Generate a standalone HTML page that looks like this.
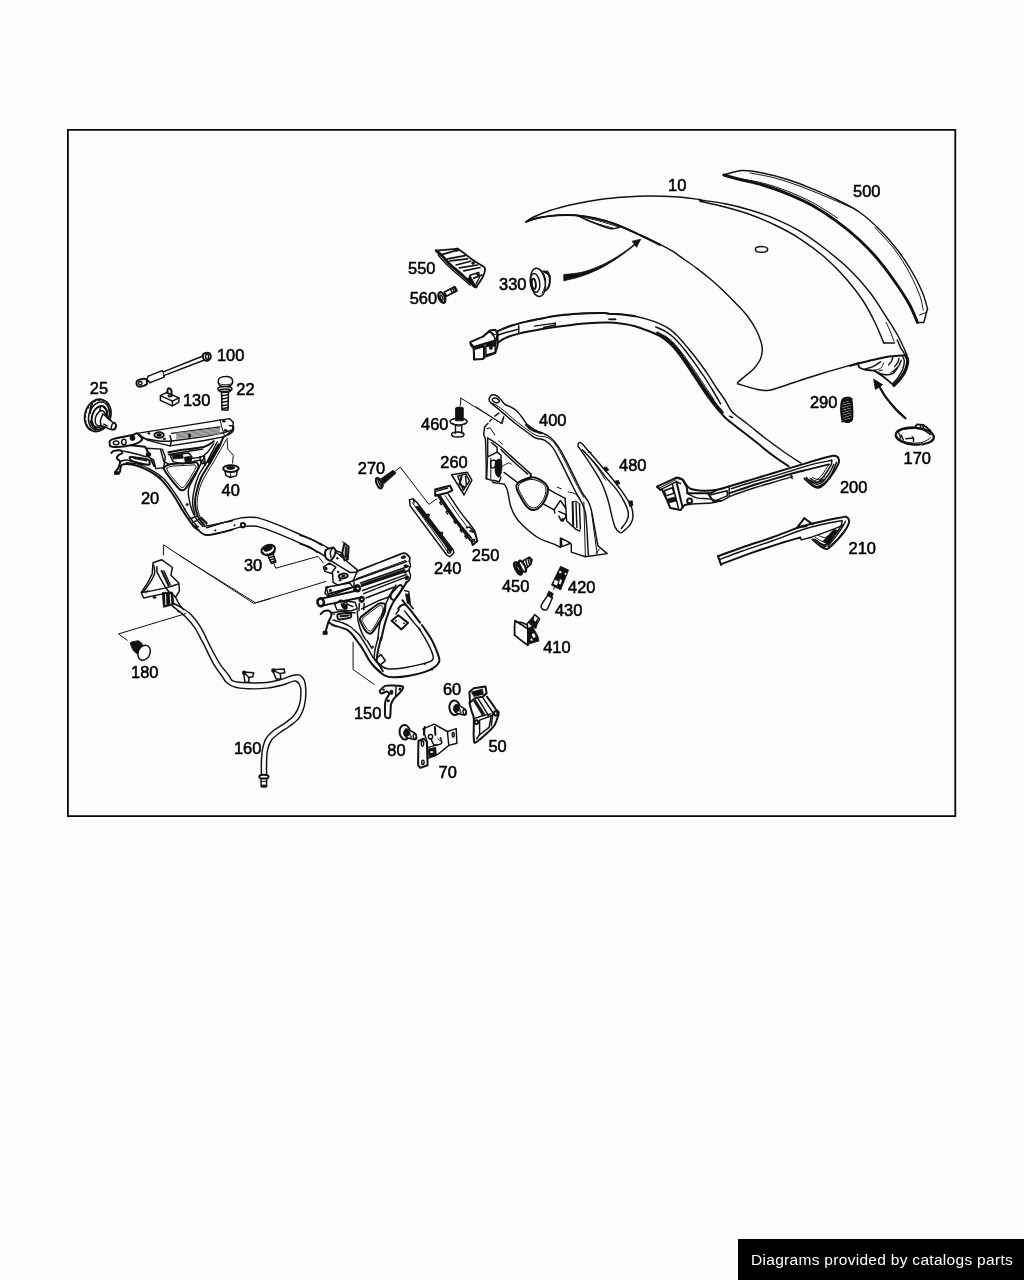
<!DOCTYPE html>
<html lang="en">
<head>
<meta charset="utf-8">
<title>Parts diagram</title>
<style>
html,body{margin:0;padding:0;background:#fcfcfc;}
body{width:1024px;height:1280px;position:relative;overflow:hidden;font-family:"Liberation Sans",sans-serif;}
#dg{position:absolute;left:0;top:0;width:1024px;height:1280px;display:block;filter:grayscale(1);}
#dg path,#dg line,#dg polyline,#dg polygon,#dg ellipse,#dg circle,#dg rect{vector-effect:non-scaling-stroke;}
#dg .ln{fill:none;stroke:#111;stroke-width:1.45;stroke-linecap:round;stroke-linejoin:round;}
#dg .th{fill:none;stroke:#111;stroke-width:1;stroke-linecap:round;stroke-linejoin:round;}
#dg .hv{fill:none;stroke:#111;stroke-width:2;stroke-linecap:round;stroke-linejoin:round;}
#dg .wf{fill:#fcfcfc;stroke:#111;stroke-width:1.5;stroke-linecap:round;stroke-linejoin:round;}
#dg .bk{fill:#111;stroke:#111;stroke-width:0.8;stroke-linejoin:round;}
#dg .gy{fill:#888;stroke:none;}
#dg text{font-family:"Liberation Sans",sans-serif;fill:#000;stroke:#000;stroke-width:0.55;}
#credit{filter:grayscale(1);position:absolute;left:738px;top:1239px;width:286px;height:41px;background:#000;color:#fff;
 font-family:"Liberation Sans","DejaVu Sans",sans-serif;font-size:15.5px;letter-spacing:0.3px;line-height:41px;text-align:left;white-space:nowrap;}
#credit span{position:absolute;left:13px;top:0;}
</style>
</head>
<body>
<svg id="dg" width="1024" height="1280" viewBox="0 0 1024 1280">
<!-- 00_frame.svgfrag -->
<rect x="67.9" y="129.9" width="887.4" height="686.2" fill="none" stroke="#0a0a0a" stroke-width="1.8"/>
<!-- 10_lid.svgfrag -->
<g id="lid">
<path class="ln" d="M526.2,221.8C527.3,221 528.5,219.4 532.5,217.5C536.5,215.6 542.9,212.8 550,210.5C557.1,208.2 566.7,205.8 575,204C583.3,202.2 591.7,200.7 600,199.5C608.3,198.3 616.7,197.6 625,197C633.3,196.4 641.7,196 650,196C658.3,196 666.7,196.2 675,196.8C683.3,197.3 695.8,199 700,199.5C704.2,200 695.8,199.3 700,200C704.2,200.7 716.7,202.1 725,203.8C733.3,205.4 741.7,207.5 750,210C758.3,212.5 766.7,215.2 775,218.8C783.3,222.3 791.7,226.2 800,231.2C808.3,236.2 816.7,242.3 825,248.8C833.3,255.2 842.5,262.7 850,270C857.5,277.3 864.2,285 870,292.5C875.8,300 880.4,307.9 885,315C889.6,322.1 893.8,328.3 897.5,335C901.2,341.7 905.4,351.7 907,355"/>
<path class="ln" d="M526.2,221.8C528.1,221.1 532.3,219.1 537.5,218C542.7,216.9 551.2,215.7 557.5,215.2C563.8,214.8 568.8,214.8 575,215.2C581.2,215.8 588.3,216.8 595,218.2C601.7,219.7 607.5,221.2 615,224C622.5,226.8 632.5,231.6 640,235C647.5,238.4 654.6,241.7 660,244.4C665.4,247.1 668.3,248.7 672.5,251.2C676.7,253.8 680.8,257.1 685,260C689.2,262.9 693.3,265.6 697.5,268.8C701.7,271.9 705.8,275.2 710,278.8C714.2,282.3 718.3,286 722.5,290C726.7,294 730.8,298.1 735,302.5C739.2,306.9 744,311.7 747.5,316.2C751,320.8 754,325.6 756.2,330C758.5,334.4 760.2,339 761.2,342.5C762.2,346 762.5,348.3 762.2,351.2C762,354.2 761.4,357.1 760,360C758.6,362.9 756.2,366 753.8,368.8C751.2,371.5 747.7,374 745,376.2C742.3,378.5 738.8,381.5 737.5,382.5"/>
<ellipse class="ln" cx="761.5" cy="249.4" rx="6.2" ry="2.8"/>
<path class="hv" d="M526.2,221.8C528.1,221.1 532.3,219.1 537.5,218C542.7,216.9 551.2,215.7 557.5,215.2C563.8,214.8 568.8,214.8 575,215.2C581.2,215.8 588.3,216.8 595,218.2C601.7,219.7 607.5,221.2 615,224C622.5,226.8 632.5,231.5 640,235C647.5,238.5 656.7,243.3 660,245"/>
<path class="ln" d="M577.5,215.5C579.6,216.5 584.6,219.1 590,221.2C595.4,223.4 605.1,227.5 610,228.5C614.9,229.5 617.9,227.5 619.5,227.2"/>
<path class="th" d="M581.2,216.5C584.4,217.3 593.6,219.5 600,221.2C606.4,223 616.2,226.2 619.5,227.2"/>
<path class="th" d="M586.2,220C588.5,220.8 595.6,223.2 600,224.5C604.4,225.8 610.4,227.4 612.5,228"/>
<path class="ln" d="M737.5,383.8C740.8,384.7 752.5,388.4 757.5,389.5C762.5,390.6 764.6,390.6 767.5,390.5C770.4,390.4 769.6,390.4 775,388.8C780.4,387.1 791.7,383.2 800,380.5C808.3,377.8 815,375.5 825,372.5C835,369.5 854.2,364.2 860,362.5"/>
<path class="ln" d="M700,201.2C704.2,202.2 716.7,204.8 725,207C733.3,209.2 741.7,211.5 750,214.5C758.3,217.5 766.7,221 775,225C783.3,229 791.7,233.3 800,238.8C808.3,244.2 817.5,251 825,257.5C832.5,264 838.8,270.4 845,277.5C851.2,284.6 857.5,292.5 862.5,300C867.5,307.5 871.5,315.3 875,322.5C878.5,329.7 882.3,339.6 883.8,343"/>
<path class="ln" d="M883.8,343L894.5,343"/>
<path class="th" d="M886.2,322.5C887.1,324.4 890,330.6 891.2,333.8C892.5,336.9 893.3,340 893.8,341.2"/>
<path class="ln" d="M723.8,175C726.9,174.2 736,170.8 742.5,170.5C749,170.2 755,171.5 762.5,173C770,174.5 779.2,176.9 787.5,179.5C795.8,182.1 804.2,185.3 812.5,188.8C820.8,192.2 829.6,196 837.5,200C845.4,204 852.9,207.5 860,212.5C867.1,217.5 873.8,223.8 880,230C886.2,236.2 892.1,242.9 897.5,250C902.9,257.1 908.3,265.4 912.5,272.5C916.7,279.6 920,286.5 922.5,292.5C925,298.5 926.7,306 927.5,308.8"/>
<path class="hv" d="M723.8,175C726.5,175.8 733.5,177.8 740,179.5C746.5,181.2 754.6,182.6 762.5,185C770.4,187.4 779.2,190.3 787.5,193.8C795.8,197.2 804.2,200.8 812.5,205.5C820.8,210.2 829.6,215.9 837.5,221.8C845.4,227.6 852.9,233.8 860,240.5C867.1,247.2 873.8,254.2 880,261.8C886.2,269.2 892.5,278.2 897.5,285.5C902.5,292.8 906.7,299.3 910,305.5C913.3,311.7 916.2,319.7 917.5,322.5" style="stroke-width:2.9"/>
<path class="ln" d="M917.5,322.5L923.8,322.5L927.5,308.8"/>
<path class="th" d="M750,173C754.2,173.8 766.7,175.8 775,178C783.3,180.2 791.7,183.2 800,186.2C808.3,189.3 816.2,192.6 825,196.2C833.8,199.9 847.9,206 852.5,208"/>
<path class="th" d="M730,177C735.4,178 752.9,180.6 762.5,183C772.1,185.4 779.2,188 787.5,191.2C795.8,194.5 804.2,198 812.5,202.5C820.8,207 833.3,215.4 837.5,218"/>
<path class="th" d="M875,227.5C878.3,231.2 889.2,242.3 895,250C900.8,257.7 905.8,266 910,273.8C914.2,281.5 917.8,290.2 920,296.2C922.2,302.3 922.7,307.7 923.2,310"/>
<path class="th" d="M919.5,315L926.2,312.5"/>

<path class="wf" d="M842.5,400C843.3,398 844.9,398.1 846.2,398C847.6,397.9 849.8,397.5 850.8,399.5C851.8,401.5 852.1,406.7 852.2,410C852.4,413.3 852.5,417.5 851.8,419.5C851,421.5 849.2,421.7 847.8,421.8C846.3,421.8 844.1,422 843,420C841.9,418 841.3,413.3 841.2,410C841.2,406.7 841.7,402 842.5,400Z" style="stroke-width:2.2"/>
<path class="hv" d="M842,401.5L851.8,399" style="stroke-width:1.9"/>
<path class="hv" d="M842,404L851.8,401.5" style="stroke-width:1.9"/>
<path class="hv" d="M842,406.5L851.8,404" style="stroke-width:1.9"/>
<path class="hv" d="M842,409L851.8,406.5" style="stroke-width:1.9"/>
<path class="hv" d="M842,411.5L851.8,409" style="stroke-width:1.9"/>
<path class="hv" d="M842,414L851.8,411.5" style="stroke-width:1.9"/>
<path class="hv" d="M842,416.5L851.8,414" style="stroke-width:1.9"/>
<path class="hv" d="M842,419L851.8,416.5" style="stroke-width:1.9"/>
<path class="hv" d="M842,421.5L851.8,419" style="stroke-width:1.9"/>
<ellipse class="bk" cx="846.8" cy="399.2" rx="4.5" ry="1.8" transform="rotate(-10 846.8 399.2)"/>
<path class="hv" d="M850,365.9C852.5,365.2 860.2,363.1 865.2,361.8C870.3,360.6 876.2,359.2 880.5,358.3C884.7,357.4 886.5,356.8 890.6,356.3C894.8,355.7 902.9,355.4 905.4,355.2"/>
<path class="hv" d="M905.4,355.2C905.8,356.1 907.6,358.1 907.7,360.3C907.8,362.6 907.2,365.7 906.1,368.6C905,371.6 903,375 901,377.8C899,380.6 895.1,384.1 893.9,385.4" style="stroke-width:3.2"/>
<path class="ln" d="M902.8,356.8C903.1,357.5 904.3,359.3 904.3,361.3C904.3,363.4 903.8,366.3 902.8,369C901.8,371.6 899.9,374.7 898.3,377.1C896.6,379.4 894,382.2 893.2,383.2"/>
<path class="ln" d="M893.9,385.4L883.5,376.8L874.4,370.7" style="stroke-width:1.8"/>
<path class="ln" d="M858.1,364.9C858.5,365.4 858.6,367.1 860.2,367.9C861.7,368.8 864.9,369.5 867.3,370C869.6,370.4 873.2,370.6 874.4,370.7" style="stroke-width:1.8"/>
<path class="ln" d="M874.4,370.7C875.9,371.3 880.5,374.1 883.5,374.5C886.6,375 890.3,374.7 892.7,373.5C895,372.4 896.9,368.6 897.7,367.6"/>
<path class="ln" d="M865.2,369C866.6,368.5 870.8,367.6 873.4,366.4C875.9,365.2 879.3,362.6 880.5,361.8"/>
<path class="th" d="M873.4,370.5C874.6,370.1 878.8,369.7 880.5,368.4C882.2,367.2 883,363.8 883.5,362.9"/>
<path class="ln" d="M888.6,364.9C889.1,364.2 891,362.1 891.7,360.8C892.3,359.6 892.5,357.9 892.7,357.3"/>
<path class="ln" d="M894.7,366.6C895.2,365.9 897,363.9 897.7,362.6C898.5,361.2 898.8,359.2 899,358.5"/>
<path class="ln" d="M893.7,371C894.5,370.1 897.5,367.7 898.8,365.9C900,364.1 900.9,361.2 901.3,360.3"/>
<path class="th" d="M890.6,372.5L894.7,370.5"/>
<path class="th" d="M879,371L882.5,370"/>
<path class="ln" d="M897.2,340L900.8,348.1L905.4,355.2"/>
<path class="hv" d="M905.4,418.2C903.8,416.7 899,412.6 895.7,409.1C892.4,405.5 888.3,400.6 885.6,396.9C882.8,393.2 880.8,389 879.5,386.7C878.1,384.4 877.6,383.8 877.2,383.2" style="stroke-width:2.3"/>
<path class="bk" d="M873.6,379.1L875.4,389.5L882.7,384.7Z"/>
<ellipse class="ln" cx="914.8" cy="436.1" rx="19.1" ry="8.5" transform="rotate(4 914.8 436.1)" style="stroke-width:2.3"/>
<path class="ln" d="M897.7,431.9C898.6,431.5 899.9,430 902.8,429.4C905.7,428.8 911.6,428.1 915,428.2C918.4,428.3 920.6,428.9 923.1,429.9C925.7,431 929.1,433.7 930.3,434.5"/>
<path class="th" d="M897.2,436.5C898.2,437.3 900.2,440 902.8,441.1C905.4,442.2 909.6,442.9 913,443.1C916.4,443.3 920.3,442.9 923.1,442.1C926,441.2 929.1,438.7 930.3,438"/>
<path class="ln" d="M915,427.2L917,424.3L923.1,424.8L930.3,430.4L931.8,434" style="stroke-width:1.8"/>
<path class="ln" d="M920.1,424.8L921.1,428.4"/>
<path class="ln" d="M922.6,425.3L924,429.4"/>
<path class="ln" d="M905.9,438.7L913.5,438L913.5,441.6"/>
<path class="th" d="M912,436L913.5,438"/>
<path class="ln" d="M898.8,433L900.8,438"/>
<path class="ln" d="M901.3,435L903.3,440.1"/>
</g>
<!-- 20_frame.svgfrag -->
<g id="frame">
<path class="ln" d="M497.6,331.2C499.8,330.3 506.1,327.4 510.9,325.8C515.7,324.2 521.3,322.8 526.5,321.6C531.7,320.3 536.9,319.4 542.1,318.4C547.3,317.4 552.5,316.4 557.8,315.6C563,314.9 568.2,314.5 573.4,314.1C578.6,313.7 583.8,313.4 589,313.3C594.2,313.1 601.1,313 604.6,313.1C608.1,313.2 607,313.5 610,313.8C613,314 618.3,314 622.5,314.4C626.7,314.8 630.8,315.4 635,316.2C639.2,317.1 643.3,318.1 647.5,319.4C651.7,320.6 656.2,322.1 660,323.8C663.8,325.4 666.9,327.1 670,329.4C673.1,331.7 675.8,334.5 678.8,337.5C681.7,340.5 684.4,343.8 687.5,347.5C690.6,351.2 694.2,355.6 697.5,360C700.8,364.4 704.4,369.2 707.5,373.8C710.6,378.3 713.3,383.1 716.2,387.5C719.2,391.9 722.3,395.9 725,400C727.7,404.1 728.5,407.9 732.2,411.9C736,415.8 741.6,419.3 747.2,423.8C752.9,428.2 759.8,434 766,438.8C772.2,443.5 778.9,448.4 784.8,452.5C790.6,456.6 798.3,461.4 801,463.1"/>
<path class="hv" d="M497.6,331.2C499.8,330.3 506.1,327.4 510.9,325.8C515.7,324.2 521.3,322.8 526.5,321.6C531.7,320.3 536.9,319.4 542.1,318.4C547.3,317.4 552.5,316.4 557.8,315.6C563,314.9 568.2,314.5 573.4,314.1C578.6,313.7 583.8,313.4 589,313.3C594.2,313.1 601.1,313 604.6,313.1C608.1,313.2 607,313.5 610,313.8C613,314 618.3,314 622.5,314.4C626.7,314.8 632.9,315.9 635,316.2"/>
<path class="hv" d="M497.6,343C498.8,342.2 501.1,339.8 504.6,338.3C508.1,336.7 513.7,334.9 518.7,333.6C523.6,332.3 529.1,331.4 534.3,330.5C539.5,329.5 544.7,328.6 549.9,327.8C555.1,327 560.4,326.5 565.6,325.8C570.8,325.1 576,324.3 581.2,323.8C586.4,323.2 592,322.9 596.8,322.7C601.6,322.4 605.7,322.3 610,322.5C614.3,322.7 618.3,323.1 622.5,323.8C626.7,324.4 630.8,325.1 635,326.2C639.2,327.4 643.3,329 647.5,330.6C651.7,332.3 656.2,334.1 660,336.2C663.8,338.4 666.9,340.8 670,343.8C673.1,346.7 675.8,350 678.8,353.8C681.7,357.5 684.4,361.7 687.5,366.2C690.6,370.8 694.2,376.2 697.5,381.2C700.8,386.2 704.4,391.9 707.5,396.2C710.6,400.6 713.3,404 716.2,407.5C719.2,411 722.3,414.8 725,417.5C727.7,420.2 727.8,420 732.5,423.8C737.2,427.5 746.9,434.8 753.5,440C760.1,445.2 766.4,450.6 772.2,455C778.1,459.4 785.8,464.4 788.5,466.2"/>
<path class="hv" d="M657.5,332.8C659.4,334 665.3,337.1 668.8,340C672.2,342.9 675.1,346.2 678.1,350C681.1,353.8 683.8,357.9 686.9,362.5C690,367.1 693.5,372.5 696.9,377.5C700.2,382.5 703.8,388.1 706.9,392.5C710,396.9 713,400.7 715.6,404C718.2,407.3 721.4,411.1 722.5,412.5" style="stroke-width:2.6"/>
<path class="ln" d="M655.6,326.9C657.4,327.7 663,329.9 666.2,331.9C669.5,333.9 672.1,335.9 675,338.8C677.9,341.6 680.6,344.9 683.8,348.8C686.9,352.6 690.4,357.3 693.8,361.9C697.1,366.5 700.6,371.6 703.8,376.2C706.9,380.9 709.7,385.4 712.5,390C715.3,394.6 719.3,401.5 720.6,403.8"/>
<path class="th" d="M665,335.6C666.7,337.1 671.7,340.8 675,344.4C678.3,347.9 681.7,352.4 685,356.9C688.3,361.4 691.7,366.4 695,371.2C698.3,376.1 701.9,381.6 705,386.2C708.1,390.9 712.3,397.2 713.8,399.4"/>

<path class="ln" d="M497.6,335.2C499.3,334.6 504.2,333 507.8,332C511.3,331 516.9,329.6 518.7,329.1"/>
<path class="ln" d="M518.7,325.8L518.7,333.6"/>
<path class="ln" d="M534.3,326.1L555.4,323.1L555.4,325L543.7,327.5"/>
<path class="ln" d="M608.5,319.1L615.6,319.1"/>
<path class="hv" d="M470.2,342.2L482.8,336.7L489.8,330.5L495.2,329.7L497.6,333.6L497.6,345.3L495.2,353.1L484.3,357L482.8,359.1L474.2,359.4L473.7,348.4L471,345.3Z"/>
<path class="hv" d="M471,343.8L473.7,346.9L496,340.3L497.6,334.4"/>
<path class="ln" d="M473.7,346.9L473.7,359.4"/>
<path class="hv" d="M484,346.9L484,358.1"/>
<path class="ln" d="M485.9,346.6L485.9,355L495.2,352.5L495.2,343"/>
<path class="bk" d="M474.9,346.9L484.3,344.5L484.3,346.9L474.9,349.4Z"/>
<path class="bk" d="M485.9,343.8L496,340.9L496,345.3L492.1,346.9L492.1,349.2L489.8,349.2L489,346.1L485.9,346.9Z"/>
<path class="ln" d="M482.8,336.7L489.8,331.2L492.9,333.6L495.2,339.8"/>
<path class="th" d="M489.8,330.5L492.1,335.2L497.6,333.6"/>

<path class="hv" d="M677.4,477.6C678.3,477.9 681.1,478.6 682.5,479.6C683.9,480.6 684.2,482.1 685.5,483.7C686.9,485.2 687.7,487.6 690.6,488.8C693.5,489.9 698.4,490.6 702.8,490.8C707.2,491 712.3,490.6 717,489.8C721.8,488.9 725.5,487.4 731.2,485.7C737,484 744.8,481.6 751.6,479.6C758.3,477.6 765.1,475.5 771.9,473.5C778.6,471.5 785.4,469.5 792.2,467.4C799,465.4 805.7,463.3 812.5,461.3C819.3,459.4 828.6,456.5 832.8,455.8C837,455.2 837,457 837.9,457.3"/>
<path class="ln" d="M731.2,488.8C734.6,487.7 744.8,484.3 751.6,482.2C758.3,480.2 765.1,478.5 771.9,476.6C778.6,474.6 785.4,472.5 792.2,470.5C799,468.4 805.9,466.1 812.5,464.4C819.1,462.7 828.6,461 831.8,460.3"/>
<path class="hv" d="M729.2,493.2C732.9,492 744.5,488 751.6,485.7C758.7,483.4 765.1,481.6 771.9,479.6C778.6,477.6 785.4,475.4 792.2,473.5C799,471.7 806.4,470 812.5,468.4C818.6,466.9 826,465.1 828.8,464.4"/>
<path class="ln" d="M690.6,504C694,503.8 705.9,503.5 710.9,503C716,502.5 717.7,502.1 721.1,500.9C724.5,499.8 726.2,497.9 731.2,495.9C736.3,493.8 744.8,491 751.6,488.8C758.3,486.5 765.1,484.7 771.9,482.7C778.6,480.6 788.8,477.6 792.2,476.6"/>
<path class="ln" d="M791.2,475.5L792.2,478.6"/>
<path class="ln" d="M729.2,485.7L729.2,495.9"/>
<path class="hv" d="M837.9,457.3C838.1,458.1 839.8,459.6 838.9,462.3C838.1,465.1 835.2,470 832.8,473.5C830.4,477.1 827.1,481.3 824.7,483.7C822.3,486 820.6,487.4 818.6,487.7C816.6,488.1 814.9,487.2 812.5,485.7C810.1,484.2 805.7,479.8 804.4,478.6"/>
<path class="ln" d="M831.8,460.3C831.6,461.2 832.3,462.5 830.8,465.4C829.3,468.3 825,474.7 822.7,477.6C820.3,480.5 818.6,482.1 816.6,482.7C814.5,483.2 811.5,481 810.5,480.6"/>
<path class="th" d="M828.8,464.4C827.6,466.2 823.8,472.8 821.6,475.5C819.4,478.3 816.6,479.8 815.5,480.6"/>
<path class="th" d="M834.8,470.5C833.5,472.2 829.3,478.1 826.7,480.6C824.2,483.2 820.8,484.9 819.6,485.7"/>
<path class="th" d="M812.5,477.6C813.5,477.9 816.6,479.8 818.6,479.6C820.6,479.4 823.7,477.1 824.7,476.6"/>
<path class="ln" d="M808.4,479.6C809.8,480.4 814.2,483.9 816.6,484.3C818.9,484.6 820.5,483.6 822.7,481.6C824.9,479.7 827.9,475.4 829.8,472.5C831.6,469.6 833.2,465.7 833.8,464.4"/>
<path class="ln" d="M806.4,477.6C807.9,479 812.7,485.3 815.5,486.3C818.4,487.3 821,485.8 823.7,483.7C826.4,481.5 829.7,477.1 831.8,473.5C833.9,470 835.7,464.2 836.5,462.3"/>
<path class="ln" d="M810.5,478.6C811.7,479.2 815.5,482.1 817.6,482.2C819.7,482.4 822.1,480 823.1,479.6"/>
<path class="hv" d="M657.1,486.7L676.4,477.6L682.5,479.6L686.6,486.7L687.6,493.2L710.9,493.2L717,489.8"/>
<path class="hv" d="M657.1,486.7L660.2,489.8L662.2,489.8L667.3,500.9L670.3,508L680.5,510.1L684.5,505L690.6,504"/>
<path class="ln" d="M660.2,489.8L676.4,481.6L680.5,483.7"/>
<path class="th" d="M659.1,488.3L676,479.6"/>
<path class="hv" d="M676.4,481.6L682.5,507"/>
<path class="ln" d="M672.3,483.7L678.4,508"/>
<path class="bk" d="M667.3,498.9L675.4,496.9L676.4,500.9L668.7,503Z"/>
<path class="ln" d="M664.2,490.8L672.3,487.7L674,493.2L666.2,495.9Z"/>
<ellipse class="hv" cx="689.6" cy="500.9" rx="2.4" ry="2.4"/>
<path class="ln" d="M686.6,493.2C688.3,494 693,496.9 696.7,497.9C700.4,498.8 705.5,498.4 708.9,498.9C712.3,499.4 715.7,500.6 717,500.9"/>
<path class="hv" d="M707.9,493.2L713,500.9L721.1,500.9"/>
<path class="ln" d="M710.9,494.8L727.2,490.8L727.2,495.9L715,500.9"/>
<path class="hv" d="M718,556.2C721.9,554.8 732.4,550.8 741.4,547.7C750.4,544.5 761.7,541.1 771.9,537.5C782,533.9 793.9,529 802.3,526.3C810.8,523.6 816.2,522.7 822.7,521.2C829.1,519.8 837,518.3 840.9,517.6C844.8,516.8 844.7,516.3 846,516.8C847.4,517.2 848.7,518.8 849.1,520.2C849.4,521.7 849.1,523.1 848,525.3C847,527.5 845.2,530.6 843,533.4C840.8,536.3 837.4,540 834.8,542.6C832.3,545.1 829.8,547.8 827.7,548.7C825.7,549.5 825.2,549.2 822.7,547.7C820.1,546.1 814.2,540.9 812.5,539.5"/>
<path class="ln" d="M720.1,559.4C723.6,558.1 732.8,554.4 741.4,551.3C750,548.2 761.7,544.5 771.9,541C782,537.4 793.9,532.6 802.3,529.8C810.8,527 816.1,525.8 822.7,524.3C829.3,522.8 838.7,521.2 842,520.6"/>
<path class="hv" d="M718,556.2L721.1,564.9"/>
<path class="hv" d="M721.1,564.3C726.2,562.4 741.4,556.5 751.6,552.9C761.7,549.3 773.9,545.4 782,542.8C790.2,540.2 797.3,538.4 800.3,537.5"/>
<path class="ln" d="M800.3,537.5L801.3,539.9L810.5,537.5"/>
<path class="ln" d="M810.5,537.5C812.8,536.7 819.3,534.5 824.7,532.4C830.1,530.4 839.9,526.5 843,525.3"/>
<path class="hv" d="M804.4,518.2L797.3,527.3L806.4,526.3"/>
<path class="hv" d="M804.4,518.2L812.5,524.3"/>
<path class="ln" d="M842,520.6C841.8,521.6 842.5,523.5 840.9,526.3C839.4,529.1 835.4,534.5 832.8,537.5C830.3,540.5 827.7,543.6 825.7,544.6C823.7,545.6 821.5,543.8 820.6,543.6"/>
<path class="th" d="M838.9,529.4C837.6,531.1 833.2,537.3 830.8,539.5C828.4,541.7 825.7,542.1 824.7,542.6"/>
<path class="th" d="M845,529.4C843.5,531.2 838.6,537.7 835.9,540.5C833.1,543.4 829.6,545.6 828.3,546.6"/>
<path class="th" d="M818.6,535.5C819.6,535.8 822.7,537.7 824.7,537.5C826.7,537.3 829.8,535 830.8,534.5"/>
<path class="th" d="M815.5,537.5C816.7,538.2 820.5,541.2 822.7,541.6C824.9,541.9 827.7,539.9 828.8,539.5"/>
<path class="bk" d="M822.7,541.6L833.8,529.4L837.9,530.4L828.8,544.6Z"/>
<path class="ln" d="M816.6,540.5C817.9,541.6 822.3,546.3 824.7,546.6C827.1,547 828.1,545.5 830.8,542.6C833.5,539.7 838.5,532.9 840.9,529.4C843.4,525.8 844.7,522.6 845.4,521.2"/>
<path class="ln" d="M814.5,539.1C816.1,540.1 821.1,544.9 823.7,545.2C826.2,545.6 828.8,541.8 829.8,541.2"/>
<path class="ln" d="M610,319.4L615.6,319.4"/>
<path class="ln" d="M729.4,416.2L732.5,417.5"/>
</g>
<!-- 30_p400.svgfrag -->
<g id="p400">
<path class="ln" d="M489.3,398.2C489.7,397.6 490.5,395.5 491.6,395C492.8,394.6 494.8,394.7 496.3,395.5C497.9,396.3 499.6,398.2 501,399.7C502.4,401.2 503.3,403.2 504.9,404.4C506.5,405.6 508.4,405.7 510.4,406.8C512.3,407.8 514.5,408.7 516.6,410.7C518.7,412.6 521.1,416.1 522.9,418.5C524.7,420.8 525.2,422.6 527.6,424.7C529.9,426.8 534.3,429.5 536.9,431C539.5,432.4 540.8,432.1 543.2,433.3C545.5,434.5 548.4,435.7 551,438C553.6,440.3 556.2,443.5 558.8,447.4C561.4,451.3 564,456.5 566.6,461.4C569.2,466.4 571.8,471.9 574.4,477.1C577,482.3 579.9,488.5 582.2,492.7C584.6,496.9 586.9,498.9 588.5,502.1C590.1,505.2 590.6,507 591.6,511.4C592.7,515.9 593.7,522.9 594.8,528.6C595.8,534.4 597.4,542.9 597.9,545.8"/>
<path class="ln" d="M489.3,398.2C489.4,398.8 488.4,400.1 490.1,402.1C491.8,404 495.3,406.4 499.4,409.9C503.6,413.4 510.4,419.4 515.1,423.2C519.8,426.9 524.2,430.1 527.6,432.5C530.9,435 532.5,436.7 535.4,438C538.2,439.3 541.9,438.8 544.8,440.3C547.6,441.9 550,443.9 552.6,447.4C555.2,450.9 557.8,456.5 560.4,461.4C563,466.4 565.6,471.9 568.2,477.1C570.8,482.3 573.7,488.3 576,492.7C578.3,497.1 580.7,500.2 582.2,503.6C583.8,507 584.6,508.8 585.4,513C586.2,517.2 586.5,523.4 586.9,528.6C587.3,533.8 587.5,539.7 587.7,544.2C588,548.8 588.4,554 588.5,556"/>
<path class="ln" d="M492.4,398.9C492.9,398.4 495.1,397.8 496.3,398.2C497.5,398.5 499.4,400.5 499.4,401.3C499.4,402.1 497.4,402.8 496.3,402.8C495.3,402.8 493.8,401.9 493.2,401.3C492.5,400.6 491.9,399.5 492.4,398.9Z"/>
<path class="th" d="M493.2,403.6C494.5,404.4 497.1,405.3 501,408.3C504.9,411.3 511.9,417.8 516.6,421.6C521.3,425.4 525.7,428.6 529.1,431C532.5,433.3 534.1,434.6 536.9,435.7C539.8,436.7 543.4,436 546.3,437.2C549.2,438.4 551.5,439.7 554.1,442.7C556.7,445.7 559.3,450.5 561.9,455.2C564.5,459.9 567.1,465.6 569.8,470.8C572.4,476 575.2,482 577.6,486.4C579.9,490.9 582.8,495.6 583.8,497.4"/>
<path class="hv" d="M527.6,425.5C528.3,426.3 529.9,428.9 532.2,430.2C534.6,431.5 540.1,432.8 541.6,433.3"/>
<path class="hv" d="M526,424.7L529.9,428.9"/>
<path class="ln" d="M484.6,427.1C484.5,428.4 483.7,432.8 483.8,434.9C483.9,437 485,434.9 485.4,439.6C485.8,444.2 486,456.5 486.2,463C486.3,469.5 486.2,476 486.2,478.6"/>
<path class="ln" d="M486.2,478.6L491.6,480.2L493.2,482.5L504.1,484.1"/>
<path class="ln" d="M504.1,484.1C504.6,485 506.2,486 507.2,489.6C508.3,493.1 509.1,500.8 510.4,505.2C511.7,509.6 513,512.7 515.1,516.1C517.1,519.5 519,521.9 522.9,525.5C526.8,529.1 533.3,534.9 538.5,538C543.7,541.1 550.5,542.7 554.1,544.2C557.8,545.8 559.3,546.9 560.4,547.4"/>
<path class="ln" d="M560.4,547.4L560.4,538L569.8,542.7L571.3,544.2L571.3,552.1L585.4,556.8L607.2,553.6L597.9,545.8"/>
<path class="ln" d="M561.2,538.8L561.9,546.6L569.8,543.5"/>
<path class="th" d="M596.3,553.6L599.4,548.9"/>
<path class="th" d="M583.8,502.1L585.4,556.4"/>
<path class="th" d="M591.6,513L597.1,553.6"/>
<path class="ln" d="M484.6,427.1L491.6,419.2" stroke-dasharray="5 3"/>
<path class="ln" d="M494.8,416.1L501,411.4" stroke-dasharray="5 3"/>
<path class="th" d="M486.9,428.6L490.1,427.8L494.8,434.9"/>
<path class="th" d="M498.7,441.1L502.6,444.2"/>
<path class="th" d="M476,406.8L501,423.2L503.8,416.1"/>
<path class="ln" d="M487.7,438C489.7,439.3 494.9,442.2 499.4,445.8C504,449.5 509.9,455.2 515.1,459.9C520.3,464.6 528.1,471.6 530.7,473.9"/>
<path class="ln" d="M501,449.7C503.3,451.9 510.6,459 515.1,463C519.5,467 525.5,472.1 527.6,473.9"/>
<path class="hv" d="M530.7,473.9L530.7,477.8L518.2,482.5"/>
<path class="ln" d="M504.1,472.4L516.6,481.8"/>
<path class="ln" d="M487.7,438L487.7,456.8L497.1,452.1L497.1,447.4L491.6,442.7"/>
<path class="th" d="M487.7,456.8L486.9,479.4"/>
<path class="th" d="M490.8,458.3L490.8,478.6"/>
<path class="ln" d="M497.1,452.1L501,455.2L501,463"/>
<path class="bk" d="M495.5,461.4C496.4,459.2 500,458.6 501,459.9C502,461.2 502,466.4 501.8,469.2C501.5,472.1 500.5,476.4 499.4,477.1C498.4,477.7 496.2,475.8 495.5,473.2C494.9,470.6 494.6,463.7 495.5,461.4Z"/>
<path class="ln" d="M490.8,461.4C491.5,460.3 494.8,459.9 495.5,460.7C496.3,461.4 496.2,465 495.5,466.1C494.9,467.3 492.4,468.5 491.6,467.7C490.8,466.9 490.2,462.6 490.8,461.4Z"/>
<path class="ln" d="M493.2,480.2L499.4,481.8L501,477.1"/>
<path class="th" d="M502.6,466.1C503.6,465.6 507.2,463.3 508.8,463C510.4,462.7 511.4,464.3 511.9,464.6"/>
<path class="hv" d="M516.6,484.9C518.2,481.4 526.3,477.9 530.7,477.4C535.1,476.9 540.3,479.8 543.2,481.8C546.1,483.7 547.6,485.7 547.9,488.8C548.1,491.9 546.6,497.1 544.8,500.5C542.9,503.9 539.5,507.7 536.9,509.1C534.3,510.4 531.7,510.4 529.1,508.6C526.5,506.8 523.4,502.1 521.3,498.2C519.2,494.2 515.1,488.3 516.6,484.9Z"/>
<path class="th" d="M518.5,485.7C519.8,482.7 526.7,479.8 530.7,479.4C534.7,479 539.9,481.6 542.4,483.3C545,485 545.9,486.8 546,489.6C546.1,492.3 544.8,496.8 543.2,499.7C541.6,502.6 538.8,505.9 536.6,507.1C534.4,508.2 532.2,508.4 529.9,506.8C527.6,505.1 524.8,500.9 522.9,497.4C521,493.9 517.2,488.7 518.5,485.7Z"/>
<path class="ln" d="M547.9,488.8C549.4,489.7 554.4,492.7 557.2,494.2C560.1,495.8 563.8,497.5 565.1,498.2"/>
<path class="ln" d="M565.1,498.2L565.8,508.3L560.4,500.5L554.1,509.9L543.2,503.9"/>
<path class="ln" d="M554.1,509.9L554.9,513"/>
<path class="th" d="M543.2,503.9L544.8,500.8"/>
<path class="th" d="M557.2,487.2L561.2,488.8"/>
<path class="th" d="M568.2,491.9C569.2,492.2 572.6,492.6 574.4,493.5C576.3,494.4 578.3,496.7 579.1,497.4"/>
<path class="ln" d="M558.8,511.4L565.8,514.6L565.8,517.7L561.2,520.8L558.8,516.1"/>
<ellipse class="bk" cx="562.7" cy="520" rx="1.2" ry="1.6"/>
<path class="ln" d="M565.8,508.3L566.6,520.8L576,529.4L579.9,531"/>
<path class="hv" d="M572.6,502.1L573.2,525.5"/>
<path class="ln" d="M576,502.8L576.9,527.4"/>
<path class="ln" d="M579.4,503.9L580.4,528.9"/>
<path class="th" d="M572.6,502.1C573.1,501.9 574.8,500.9 576,501.3C577.2,501.7 579.3,503.9 579.9,504.4"/>
<path class="ln" d="M578.3,446.6C577.7,445.2 578,444.1 578.3,443.5C578.7,442.8 579.5,442 580.7,442.7C581.9,443.3 583,444.8 585.4,447.4C587.7,450 591.6,454.7 594.8,458.3C597.9,462 601,465.6 604.1,469.2C607.2,472.9 610.4,476.3 613.5,480.2C616.6,484.1 620,488.5 622.9,492.7C625.7,496.9 629,501.3 630.7,505.2C632.4,509.1 633,513 633,516.1C633,519.2 632.4,521.3 630.7,523.9C629,526.5 624.7,530.3 622.9,531.8C621.1,533.2 621.1,533.3 619.8,532.5C618.4,531.8 616.4,529.8 615.1,527.1C613.8,524.3 613.2,521.1 611.9,516.1C610.6,511.2 609.1,503.1 607.2,497.4C605.4,491.6 603.6,487 601,481.8C598.4,476.5 594.8,471.1 591.6,466.1C588.5,461.2 584.5,455.3 582.2,452.1C580,448.8 579,448 578.3,446.6Z"/>
<path class="ln" d="M582.2,449.7C584.3,451.9 590.8,458.4 594.8,463C598.7,467.6 602,472.6 605.7,477.1C609.3,481.5 613.5,485.4 616.6,489.6C619.8,493.7 622.5,498.2 624.4,502.1C626.4,506 628,509.9 628.3,513C628.7,516.1 628,518.2 626.8,520.8C625.6,523.4 622.2,527.3 621.3,528.6"/>
<path class="th" d="M583.8,450.5C585.9,453.1 592.7,461.2 596.3,466.1C600,471.1 604.1,477.8 605.7,480.2"/>
<path class="bk" d="M603.3,467.7L606.5,466.9L608.8,470L605.7,471.6Z"/>
<path class="bk" d="M615.1,481L618.5,480.5L619.8,483.6L616.6,484.9Z"/>
<path class="bk" d="M628.3,501.3L632.2,500.8L633,505.2L629.9,506.8Z"/>
<path class="ln" d="M588.5,452.1L590.8,452.4"/>
</g>
<!-- 40_mid.svgfrag -->
<g id="mid">
<path class="th" d="M460.9,398.1L460.2,405.9"/>
<path class="th" d="M460.9,398.1L502.3,423.9L503.9,416.9"/>
<ellipse class="wf" cx="458.6" cy="421.6" rx="8.6" ry="3.4"/>
<path class="bk" d="M455.5,408.3L463.3,408.3L463.3,420.8L455.5,420.8Z"/>
<ellipse class="bk" cx="459.4" cy="408.3" rx="3.9" ry="1.2"/>
<path class="ln" d="M455.5,424.7L455.5,433.3"/>
<path class="ln" d="M461.7,424.7L461.7,433.3"/>
<ellipse class="ln" cx="457.8" cy="434.4" rx="6.2" ry="2.5"/>
<path class="th" d="M452.3,423.1C453.4,423.6 456.5,426.2 458.6,426.2C460.7,426.2 463.8,423.6 464.8,423.1"/>
<ellipse class="hv" cx="378.9" cy="483.3" rx="2.2" ry="5.6" transform="rotate(-25 378.9 483.3)"/>
<ellipse class="ln" cx="380.5" cy="482.5" rx="1.6" ry="4.7" transform="rotate(-25 380.5 482.5)"/>
<path class="bk" d="M381.2,478.6L393,470.3L396.1,473.1L383.6,484.1Z"/>
<path class="th" d="M394.5,471.6L400.3,467.2L428.9,504.4L436.7,498.9"/>
<path class="ln" d="M451.6,474.7L467.2,472.3L471.9,480.2L464.1,495Z"/>
<path class="ln" d="M457.8,476.2L465.6,473.9L469.5,480.9L463.3,490.3Z"/>
<path class="hv" d="M461.7,476.2L459.4,484.1L464.1,487.2"/>
<path class="ln" d="M465.6,476.2L466.4,485.6"/>
<path class="th" d="M451.6,474.7L453.1,477.8L463.3,492.7"/>
<path class="hv" d="M435.2,489.5L450,485.6L452.3,490.3L447.7,492.7L435.2,495.8Z"/>
<path class="ln" d="M436.7,491.1L447.7,488"/>
<path class="hv" d="M437.5,495C439.1,497.3 443.2,503.9 446.9,509.1C450.5,514.3 455.5,521 459.4,526.2C463.3,531.5 468.5,538 470.3,540.3"/>
<path class="hv" d="M439.4,495C440.9,497.3 445.1,503.9 448.8,509.1C452.4,514.3 457.5,521.4 461.2,526.2C465,531.1 469.5,536 471.1,538"/>
<path class="ln" d="M448.4,494.2C450.3,497 455.7,505.5 459.4,510.6C463,515.7 467.7,521.3 470.3,524.7C472.9,528.1 474.2,529.9 475,530.9"/>
<path class="th" d="M445.3,495.8C447.1,498.5 452.6,507 456.2,512.2C459.9,517.4 465.4,524.6 467.2,527"/>
<path class="hv" d="M470.3,530.9L475,532.5L477.3,541.1L472.7,545L471.1,540.3"/>
<path class="ln" d="M466.4,527.8L469.5,527L475,532.5"/>
<path class="ln" d="M442.2,501.2L439.8,502.5L441.4,504.7"/>
<path class="ln" d="M448.4,510.6L446.1,511.9L447.7,514.1"/>
<path class="ln" d="M456.2,520L453.9,521.2L455.5,523.4"/>
<path class="ln" d="M462.5,528.6L460.2,529.8L461.7,532"/>
<path class="ln" d="M467.2,534.8L464.8,536.1L466.4,538.3"/>
<ellipse class="ln" cx="473.4" cy="540.3" rx="1.2" ry="1.2"/>
<path class="ln" d="M409.4,499.7L413.3,498.9L417.2,502.8L453.1,549.7L453.9,552.8L450,556.7L446.9,555.2L410.2,505.9Z"/>
<path class="hv" d="M416.4,506.7C418.4,509.2 424.1,516.4 428.1,521.6C432.2,526.8 437,533 440.6,538C444.3,542.9 448.4,549 450,551.2"/>
<path class="hv" d="M418.3,506.7C420.2,509.2 426,516.4 430,521.6C434,526.8 439,533.3 442.5,538C446,542.7 449.8,547.7 451.2,549.7"/>
<path class="th" d="M412.5,502.8C414.6,505.7 420.8,514.3 425,520C429.2,525.7 433.7,531.8 437.5,537.2C441.3,542.5 446,549.6 447.7,552"/>
<ellipse class="ln" cx="428.1" cy="515.3" rx="1.2" ry="1.2"/>
<ellipse class="ln" cx="441.4" cy="533.3" rx="1.2" ry="1.2"/>
<ellipse class="ln" cx="449.2" cy="551.2" rx="1.6" ry="1.9"/>
<path class="ln" d="M413.3,498.9L414.1,502.8"/>
</g>
<!-- 50_small.svgfrag -->
<g id="small">
<path class="wf" d="M523.5,560.4L529.4,557.1L532.1,559.8L531,564.1L526.7,567.9L521.9,565.7Z"/>
<path class="ln" d="M525.6,559.8L527.2,565.7"/>
<path class="ln" d="M527.8,558.4L529.6,564.7"/>
<path class="ln" d="M529.9,558.2L531,562.5"/>
<ellipse class="wf" cx="522.4" cy="566.3" rx="2.4" ry="6.2" transform="rotate(-28 522.4 566.3)" style="stroke-width:2.2"/>
<ellipse class="wf" cx="518.1" cy="568.4" rx="2.6" ry="6.7" transform="rotate(-28 518.1 568.4)" style="stroke-width:2.4"/>
<ellipse class="hv" cx="518.4" cy="568.4" rx="1.3" ry="4.3" transform="rotate(-28 518.4 568.4)"/>
<path class="ln" d="M515.4,566.8L520.8,573.3"/>
<path class="bk" d="M560.5,566.3L568.6,570L560.7,589.9L551.4,585.1Z"/>
<ellipse class="gy" cx="560.3" cy="572.2" rx="1.3" ry="1.1" style="fill:#fcfcfc"/>
<ellipse class="gy" cx="565.4" cy="573.8" rx="0.9" ry="1.1" style="fill:#fcfcfc"/>
<path class="gy" d="M554.6,579.7L558.4,581.3L556.8,585.6L553.5,584Z" style="fill:#fcfcfc"/>
<path class="gy" d="M560,579.2L562.1,580.2L560.5,584.5L558.9,583.8Z" style="fill:#fcfcfc"/>
<path class="bk" d="M548.7,591L553.5,593.7L551.4,598L547.1,595.3Z"/>
<path class="ln" d="M547.6,595.3C546.6,597 542.1,603.3 541.2,605.5C540.3,607.7 541.6,608 542.3,608.7C542.9,609.5 544.1,610 545,610C545.8,610 546.4,610.8 547.6,608.7C548.9,606.6 551.7,599.3 552.5,597.4"/>
<path class="th" d="M553.5,589.4L554.6,587.2"/>
<path class="ln" d="M514.9,622.1C515.2,620.1 514.4,620.5 516.5,621.6C518.5,622.7 525.3,627.2 527.2,628.6C529.1,630 527.7,627.7 527.8,630.2C527.9,632.7 527.9,641.3 527.8,643.6C527.6,646 528.7,645.7 526.7,644.4C524.6,643 517.4,637.3 515.4,635.6C513.4,633.8 514.6,636.2 514.6,634C514.5,631.7 514.6,624.2 514.9,622.1Z" style="stroke-width:1.8"/>
<path class="bk" d="M527.8,629.1L532.6,626.4L538,636.6L539,640.9L527.8,644.4Z"/>
<ellipse class="gy" cx="533.7" cy="635.6" rx="1.5" ry="2.4" transform="rotate(-25 533.7 635.6)" style="fill:#fcfcfc"/>
<path class="gy" d="M529.9,639.9L532.1,637.7L532.6,640.9Z" style="fill:#fcfcfc"/>
<path class="ln" d="M516.5,621.8L521.9,622.5L531.5,626.8"/>
<path class="wf" d="M527.2,623.8L532.1,618.4L534.7,614.6L539.6,618.9L536.4,624.8L535.8,628L532.6,626.4L527.8,629.1Z" style="stroke-width:1.6"/>
<path class="bk" d="M528.8,622.1L532.1,619.5L537.4,623.2L535.8,627L530.4,624.8Z"/>
<path class="ln" d="M533.7,617.8L532.6,620.5"/>
<path class="ln" d="M537.4,619.5L536.4,622.1"/>
</g>
<!-- 60_left.svgfrag -->
<g id="left">
<path class="ln" d="M148.3,376.2L162.2,370.6L163.3,371.9L203,356"/>
<path class="ln" d="M150.1,382.7L164.1,377.1L163.7,375.6L204.5,360"/>
<path class="ln" d="M148.3,376.2C148.1,376.7 146.7,378.3 147,379.3C147.3,380.4 149.6,382.1 150.1,382.7"/>
<path class="th" d="M162.2,370.6C162.5,371.1 163.4,372.7 163.7,373.8C164,374.9 164,376.6 164.1,377.1"/>
<path class="hv" d="M203,354.5C203.4,353.5 204.7,353.2 205.8,353C206.9,352.8 208.7,352.7 209.5,353.4C210.4,354 210.8,355.7 210.8,356.7C210.8,357.7 210.4,358.8 209.5,359.5C208.7,360.2 206.8,360.9 205.8,360.8C204.8,360.6 203.9,359.6 203.4,358.6C202.9,357.5 202.6,355.4 203,354.5Z"/>
<ellipse class="ln" cx="207.1" cy="356.7" rx="1.5" ry="2.6"/>
<path class="hv" d="M136.6,381.7C136.9,380.8 137.5,380.4 139,379.9C140.5,379.4 144.2,378.7 145.5,379C146.8,379.2 146.8,380.3 147,381.2C147.1,382.1 147.6,383.6 146.4,384.5C145.3,385.5 141.5,386.6 139.9,386.8C138.4,386.9 137.7,386.3 137.2,385.5C136.6,384.6 136.3,382.7 136.6,381.7Z"/>
<ellipse class="ln" cx="140.3" cy="383.2" rx="1.7" ry="1.7"/>
<path class="wf" d="M218.2,381.7C218.2,380.5 218.6,378.9 219.7,378C220.9,377.1 223.4,376.4 225.3,376.4C227.1,376.3 229.6,376.8 230.9,377.7C232.1,378.6 232.7,380.4 232.7,381.7C232.7,383 232.1,384.6 230.9,385.5C229.6,386.3 227.1,386.7 225.3,386.8C223.4,386.8 220.9,386.5 219.7,385.6C218.6,384.8 218.2,383 218.2,381.7Z"/>
<path class="th" d="M218.2,382.3C218.8,382.7 219.8,384.2 221.6,384.5C223.4,384.9 227.1,384.9 229,384.5C230.9,384.2 232.1,382.7 232.7,382.3"/>
<ellipse class="wf" cx="224.9" cy="389" rx="7.1" ry="2.4"/>
<ellipse class="ln" cx="224.9" cy="390.8" rx="5.6" ry="1.7"/>
<path class="wf" d="M221.6,392.3L222,410.1L228.1,410.1L228.4,392.3Z"/>
<path class="ln" d="M221.8,395.7L228.3,394.6"/>
<path class="ln" d="M221.8,399L228.3,397.9"/>
<path class="ln" d="M221.8,402.3L228.3,401.2"/>
<path class="ln" d="M221.8,405.7L228.3,404.6"/>
<path class="ln" d="M221.8,408.7L228.3,407.5"/>
<path class="ln" d="M160.4,395.7L166.8,392.3L178.9,397.9L178.9,402.2L172.4,405.9L160.4,400.3Z"/>
<path class="ln" d="M160.4,395.7L172.4,401.2L178.9,397.9"/>
<path class="ln" d="M172.4,401.2L172.4,405.9"/>
<path class="hv" d="M167.4,392.9C167.5,392.3 167.3,389.9 167.8,389.2C168.2,388.5 169.4,388.3 170,388.6C170.6,388.9 171.2,389.9 171.5,391C171.7,392.2 171.5,394.9 171.5,395.7"/>
<ellipse class="ln" cx="170" cy="395.7" rx="1.9" ry="1.1"/>
<ellipse class="wf" cx="97.8" cy="415.4" rx="12.8" ry="16.4" transform="rotate(18 97.8 415.4)" style="stroke-width:1.8"/>
<ellipse class="ln" cx="98.9" cy="415.9" rx="10" ry="14.2" transform="rotate(18 98.9 415.9)"/>
<ellipse class="hv" cx="99.4" cy="416.7" rx="7.3" ry="11" transform="rotate(18 99.4 416.7)"/>
<ellipse class="ln" cx="100.4" cy="418.4" rx="4.9" ry="7.8" transform="rotate(18 100.4 418.4)"/>
<ellipse class="th" cx="97.5" cy="415.4" rx="11.5" ry="15.2" transform="rotate(18 97.5 415.4)" stroke-dasharray="2 2.5"/>
<path class="hv" d="M92.1,403.7C91.9,404.5 91,406.6 90.6,408.1C90.3,409.7 90.2,412.2 90.2,413"/>
<path class="hv" d="M90.6,421.3C91,422.1 91.6,424.9 92.6,426.2C93.6,427.5 95.9,428.6 96.5,429.1"/>
<path class="ln" d="M100.4,406.2L99.9,410.6"/>
<path class="ln" d="M103.3,406.6L107.2,411"/>
<path class="wf" d="M102.4,414.9C102.7,414.2 102.4,413.5 103.3,414.2C104.3,414.9 111,420.9 112.1,421.8C113.3,422.7 114.6,422.8 115.1,423.2C115.5,423.7 116.3,425.6 116.3,426.2C116.3,426.8 115.4,428.7 115.1,429.1C114.7,429.5 113.1,429.8 112.6,429.8C112.1,429.9 111.1,429.7 110.2,429.4C109.3,429 104.2,426.5 103.3,426.2C102.5,425.8 101.7,426.2 101.4,425.7C101.1,425.2 100.3,422.4 100.4,421.3C100.5,420.2 102.1,415.7 102.4,414.9Z"/>
<ellipse class="ln" cx="113.6" cy="426.2" rx="2.1" ry="3.4" transform="rotate(18 113.6 426.2)"/>
<path class="ln" d="M107.2,417.9L110.2,420.1"/>
<path class="ln" d="M103.8,424.2L107.2,426.2"/>
</g>
<!-- 61_hinge.svgfrag -->
<g id="hinge">
<path class="ln" d="M137.2,433.4L229.4,418.6L233.3,422.2L232.5,430.3L224.7,436.6L204.4,440.5L170,445.9L160.6,443.6L146.6,439.7Z"/>
<path class="ln" d="M170,441.2L204.4,436.6L223.1,432.7L232.5,430"/>
<path class="ln" d="M170,435.8L171.6,441.2L170,445.9"/>
<path class="ln" d="M137.2,433.4L141.9,438.1L160.6,441.2L170,441.2"/>
<path class="ln" d="M171.6,433.4L220,426.9"/>
<path class="th" d="M220,419.4L221.6,426.4L224.7,436.6"/>
<path class="gy" d="M176.2,433.4L220,428.4" style="fill:none;stroke:#8a8a8a;stroke-width:1.2"/>
<path class="gy" d="M176.2,434.7L220,429.7" style="fill:none;stroke:#8a8a8a;stroke-width:1.2"/>
<path class="gy" d="M176.2,435.9L220,430.9" style="fill:none;stroke:#8a8a8a;stroke-width:1.2"/>
<path class="gy" d="M176.2,437.2L220,432.2" style="fill:none;stroke:#8a8a8a;stroke-width:1.2"/>
<path class="gy" d="M176.2,438.4L220,433.4" style="fill:none;stroke:#8a8a8a;stroke-width:1.2"/>
<ellipse class="hv" cx="159.1" cy="435" rx="4.7" ry="2.7"/>
<ellipse class="bk" cx="159.1" cy="435" rx="2.3" ry="1.2"/>
<ellipse class="bk" cx="148.9" cy="433.4" rx="1.2" ry="0.8"/>
<ellipse class="bk" cx="164.5" cy="438.9" rx="1.2" ry="0.8"/>
<ellipse class="bk" cx="223.9" cy="421.2" rx="1.6" ry="0.9"/>
<ellipse class="bk" cx="189.5" cy="435.8" rx="0.9" ry="2.2"/>
<ellipse class="bk" cx="225.5" cy="430.3" rx="1.6" ry="0.9"/>
<path class="ln" d="M229.4,425.6C230,425.8 232.8,425.4 233.3,426.4C233.8,427.4 233.4,430.4 232.5,431.9C231.6,433.3 228.6,434.5 227.8,435"/>
<path class="hv" d="M109.8,441.2C110.5,440.5 110,439.9 113.8,438.9C117.5,437.9 128.6,435.9 132.5,435C136.4,434.1 135.6,432.7 137.2,433.4C138.8,434.2 142.9,437.7 141.9,439.7C140.8,441.6 135.9,444 130.9,445.2C126,446.3 115.7,447 112.2,446.7C108.7,446.5 110.2,444.5 109.8,443.6C109.5,442.7 109.2,442 109.8,441.2Z"/>
<ellipse class="ln" cx="116.1" cy="442.8" rx="2.8" ry="1.9"/>
<ellipse class="ln" cx="123.9" cy="442" rx="2.2" ry="2.8"/>
<ellipse class="bk" cx="132.5" cy="438.1" rx="2.5" ry="2.5"/>
<path class="hv" d="M130.9,445.2L145,446.7L148.1,452.2L146.6,455.3"/>
<path class="hv" d="M111.4,453C111.8,452.6 112.3,451.4 113.8,450.9C115.2,450.5 118.6,450 120,450.3C121.4,450.7 122.6,452.1 122.3,453C122.1,453.8 119.3,454.4 118.4,455.3C117.5,456.2 116.6,457.4 116.9,458.4C117.1,459.5 119.7,460 120,461.6C120.3,463.1 119.2,466.1 118.4,467.8C117.7,469.5 115.8,471.1 115.3,471.7"/>
<path class="bk" d="M114.5,471.7L114.5,474.4L119.2,474.4L120,471.7Z"/>
<path class="ln" d="M122.3,450.9C124,451.3 128.5,452 132.5,453C136.5,454 144.2,456.2 146.6,456.9"/>
<path class="ln" d="M120,461.6C121,461.3 124.2,460 126.2,460C128.3,460 131.5,461.3 132.5,461.6"/>
<path class="hv" d="M131.2,456.9C134.2,457 145.1,458.8 148.1,459.7C151.1,460.6 149.4,461.5 149.4,462.3C149.4,463.2 150.9,464.9 148.1,464.7C145.3,464.5 135.5,462.2 132.5,461.2C129.5,460.3 130.5,459.8 130.3,459.1C130.1,458.3 128.3,456.8 131.2,456.9Z"/>
<path class="ln" d="M134.1,458.4L146.6,460.9"/>
<path class="hv" d="M120,471.7C120.4,470.5 120,465.8 122.3,464.7C124.7,463.6 130,464.2 134.1,465C138.1,465.8 142.1,467.3 146.6,469.7C151,472 156.2,474.9 160.6,479.1C165.1,483.2 169.5,489.5 173.1,494.7C176.8,499.9 179.9,506.1 182.5,510.3C185.1,514.5 186.7,516.8 188.8,519.7C190.8,522.6 193.4,525.8 195,527.5C196.6,529.2 197.9,529.6 198.4,530"/>
<path class="ln" d="M126.2,462.8C128.1,463 133.3,462.9 137.2,463.9C141.1,464.9 145.3,466.6 149.7,469.1C154.1,471.5 159.3,474.4 163.8,478.8C168.2,483.1 172.6,489.8 176.2,495.2C179.9,500.5 183,506.6 185.6,510.8C188.2,514.9 190.1,517.7 191.9,520.2C193.7,522.6 195.8,524.7 196.6,525.6"/>
<path class="hv" d="M223.4,436.9C222.9,438.2 222.1,440.5 220,444.7C217.9,448.9 213.8,456.4 210.6,461.9C207.5,467.3 203.6,472.6 201.2,477.5C198.9,482.4 197.6,487.1 196.6,491.6C195.5,496 194.7,499.9 195,504.1C195.3,508.2 196.6,512.9 198.1,516.6C199.7,520.2 203.3,524.4 204.4,525.9"/>
<path class="ln" d="M217.2,442C215.6,445.1 210.9,454.7 207.8,460.3C204.7,466 200.8,470.7 198.4,475.9C196.1,481.1 194.7,486.9 193.8,491.6C192.8,496.2 192.4,500.2 192.7,504.1C192.9,507.9 194.6,512.9 195,514.7"/>
<path class="ln" d="M204.4,456.9C203.9,457.9 202.8,460 201.2,463.1C199.7,466.2 197.1,471.5 195,475.6C192.9,479.8 189.8,484.5 188.8,488.1C187.7,491.8 188.2,493.9 188.8,497.5C189.3,501.1 190.6,506.4 191.9,510C193.2,513.6 194.7,516.6 196.6,519.4C198.4,522.1 201.8,525.2 202.8,526.4"/>
<path class="bk" d="M218.4,443.6L221.2,444.7L209.8,463.9L207.2,462.3Z"/>
<path class="th" d="M226.2,439.7C224.2,443.3 217.7,454.8 213.8,461.6C209.8,468.3 205.4,474.8 202.8,480.3C200.2,485.8 199,489.9 198.1,494.4C197.2,498.8 196.8,502.7 197.3,506.9C197.9,511 199.7,516.4 201.2,519.4C202.8,522.4 205.8,523.9 206.7,524.8"/>
<path class="hv" d="M163.8,468.1C163.9,467 167.5,464.7 170,464.2C172.5,463.7 186.1,463.3 188.8,463.1C191.4,463 195.6,462 196.6,462.5C197.5,463 199.2,465.7 198.4,467.8C197.7,469.9 190.5,481.2 189.1,483.4C187.7,485.6 185.3,489.1 184.4,489.7C183.4,490.2 181,490.4 179.4,489.1C177.8,487.7 170,478 168.4,475.9C166.9,473.8 163.6,469.3 163.8,468.1Z"/>
<path class="th" d="M166.6,468.6C166.7,467.7 169.3,466.6 171.6,466.2C173.8,465.9 186.4,465.4 188.8,465.3C191.1,465.2 194.3,464.7 195,465C195.7,465.3 196.5,466.4 195.8,468.1C195,469.8 188.7,480.3 187.5,482.2C186.3,484.1 184.2,486.8 183.4,487.2C182.7,487.6 181.6,487.8 180.3,486.6C179,485.4 172,477.1 170.6,475.3C169.2,473.5 166.5,469.5 166.6,468.6Z"/>
<path class="bk" d="M172.3,455.6L182.5,454.5L183.3,458.1L173.1,459.1Z"/>
<path class="bk" d="M184.4,457.2L190.6,456.2L191.2,460.9L185.3,462.5Z"/>
<path class="ln" d="M170,455.3L188.8,453L191.9,456.9L190.3,462.3L182.5,463.9L173.1,461.6Z"/>
<path class="ln" d="M146.6,448.3L162.2,449.1L165.3,456.9L163.8,467.8L155.9,468.6L153.6,460L148.1,456.9Z"/>
<path class="hv" d="M151.2,460L154.4,466.2"/>
<path class="ln" d="M160.6,449.8L163.8,461.6L168.4,463.9"/>
<path class="hv" d="M168.4,452.2C170.8,451.8 176.5,450.8 182.5,449.8C188.5,448.9 199.2,448.2 204.4,446.7C209.6,445.3 212.2,442.2 213.8,441.2"/>
<path class="ln" d="M168.4,454.5C170.8,454.1 176.8,453.1 182.5,452.2C188.2,451.3 199.4,449.6 202.8,449.1"/>
<path class="ln" d="M191.9,458.4C193.4,458.2 198.6,457.9 201.2,456.9C203.9,455.8 205.4,454.4 207.5,452.2C209.6,450 212.7,445 213.8,443.6"/>
<path class="ln" d="M190.3,462.3C192.1,462 198.8,459.9 201.2,460.3C203.7,460.7 204.5,464 205.2,464.7"/>
<ellipse class="bk" cx="148.9" cy="454.5" rx="1.9" ry="2.2"/>
<path class="ln" d="M199.7,456.9L204.4,456.1L205.2,463.1L201.2,463.9Z"/>
<ellipse class="bk" cx="187.2" cy="504.5" rx="1.1" ry="1.1"/>
<ellipse class="bk" cx="184.8" cy="509.2" rx="0.6" ry="0.6"/>
<ellipse class="bk" cx="159.8" cy="477.2" rx="0.6" ry="0.6"/>
<ellipse class="bk" cx="192.7" cy="517.8" rx="0.6" ry="0.6"/>
<path class="ln" d="M188.8,519.4L196.6,516.2"/>
<path class="ln" d="M191.1,523.3L198.9,519.4"/>
<path class="bk" d="M191.9,525.6L196.6,529.5L198.9,526.4Z"/>
<path class="hv" d="M201.2,517.8L206.7,523.3"/>
<path class="ln" d="M198.4,530C199.2,530.6 201.3,532.9 202.8,533.8C204.3,534.6 204.6,535.2 207.5,535C210.4,534.8 215.8,533.7 220,532.8C224.2,532 230.4,530.3 232.5,529.8"/>
<path class="ln" d="M204.4,526.4C207,525.9 215.3,524.3 220,523.4C224.7,522.5 230.4,521.4 232.5,520.9"/>
<ellipse class="wf" cx="230.9" cy="468.6" rx="7.8" ry="3.4" style="stroke-width:2"/>
<ellipse class="bk" cx="230.6" cy="467.8" rx="4.1" ry="1.6"/>
<path class="ln" d="M225,471.2L225.9,475.6L230.6,477.5L236.4,475.6L237.2,471.6"/>
<path class="th" d="M230.6,472.2L230.6,477.5"/>
<path class="th" d="M227,438.1L227.8,449.1L233.3,455.3L232.5,463.1"/>
</g>
<!-- 62_tube.svgfrag -->
<g id="tube">
<path class="ln" d="M206.4,527.8C209.3,526.9 218.4,524.1 223.9,522.5C229.5,520.9 235.4,519 239.8,518.1C244.2,517.2 247.1,517.2 250.3,517.2C253.5,517.2 254.7,517 259.1,518.1C263.5,519.3 269.4,521.3 276.7,524.3C284,527.2 295.7,532.5 303,535.7C310.4,538.9 316.2,541.4 320.6,543.6C325,545.8 327.9,548 329.4,548.9"/>
<path class="ln" d="M199.3,531.3C200.2,531.9 202.6,534.2 204.6,534.8C206.7,535.4 208.1,535.4 211.6,534.8C215.2,534.2 220.7,532.6 225.7,531.3C230.7,530 237.4,527.8 241.5,526.9C245.6,526 247.4,526 250.3,526C253.2,526 254.7,525.7 259.1,526.9C263.5,528.1 269.4,530.1 276.7,533.1C284,536 296.3,541.4 303,544.5C309.8,547.6 313.3,549.5 317.1,551.5C320.9,553.6 324.4,555.9 325.9,556.8"/>
<ellipse class="hv" cx="242.9" cy="525.2" rx="2.1" ry="2.1"/>
<ellipse class="bk" cx="215.2" cy="530.4" rx="0.7" ry="0.7"/>
<ellipse class="bk" cx="234.5" cy="525.2" rx="0.7" ry="0.7"/>
<ellipse class="wf" cx="268.2" cy="549.8" rx="7" ry="4.7" transform="rotate(-20 268.2 549.8)" style="stroke-width:2"/>
<ellipse class="bk" cx="267.9" cy="548.4" rx="4.6" ry="2.5" transform="rotate(-20 267.9 548.4)"/>
<path class="ln" d="M262.6,552.4C263.2,552.9 264.4,555.2 266.1,555.4C267.9,555.6 271.7,554.4 273.2,553.6C274.6,552.8 274.6,551.1 274.9,550.6"/>
<path class="wf" d="M267.9,555.4L271.4,563.5L275.8,562.1L273.2,554.2Z"/>
<path class="ln" d="M268.8,557.7L274,556.4"/>
<path class="ln" d="M269.6,560L274.9,558.6"/>
<path class="ln" d="M270.7,562.1L275.6,560.8"/>
<path class="th" d="M274,563.8L275.8,568.2L318,556.4L323.3,562.9"/>
<path class="th" d="M180,555.9L255.6,602.9L325.9,581.4"/>
</g>
<!-- 63_hinge2.svgfrag -->
<g id="hinge2">
<path class="ln" d="M300,535.2C302.1,535.9 308.9,538.2 312.5,539.8C316.1,541.5 320.3,544.4 321.9,545.3"/>
<path class="ln" d="M300,543.8C301.6,544.3 306.5,545.4 309.4,546.9C312.2,548.3 315.9,551.4 317.2,552.3"/>
<path class="hv" d="M353.9,636.7C355.3,638.7 360,644.9 362.5,648.8C365,652.6 366.7,656.6 368.8,659.7C370.8,662.8 372.4,664.9 375,667.5C377.6,670.1 381.2,673.7 384.4,675.3C387.5,677 389.6,677.3 393.8,677.3C397.9,677.4 404.2,676.7 409.4,675.8C414.6,674.9 420.8,673.3 425,671.9C429.2,670.4 432,669 434.4,667.2C436.8,665.4 438.9,663.3 439.4,660.9C439.9,658.6 438.9,656.8 437.5,653.1C436.1,649.5 433.9,643.8 431.2,639.1C428.6,634.4 423.4,627.3 421.9,625"/>
<path class="ln" d="M359.4,634.7C360.7,636.8 364.8,643.3 367.2,647.2C369.5,651.1 371.4,655.3 373.4,658.1C375.5,661 377.3,662.6 379.7,664.4C382,666.1 383.6,668.2 387.5,668.8C391.4,669.3 397.4,668.8 403.1,668C408.9,667.2 417.2,665.2 421.9,664.1C426.6,662.9 429.4,662.2 431.2,660.9C433.1,659.6 433.6,659.1 433.1,656.2C432.6,653.4 430.5,648.4 428.1,643.8C425.7,639.1 420.3,630.7 418.8,628.1"/>
<path class="th" d="M360.2,643.8C361.2,645.6 364.3,651.3 366.4,654.7C368.5,658.1 370.2,661.2 372.7,664.1C375.1,666.9 379.8,670.6 381.2,671.9"/>
<path class="hv" d="M381.2,637.5C380.7,639.6 378.9,646.1 378.1,650C377.3,653.9 376.8,659.1 376.6,660.9"/>
<path class="ln" d="M378.1,637.5C377.6,639.6 375.7,646.6 375,650C374.3,653.4 374.3,656.5 374.2,657.8"/>
<path class="ln" d="M367.2,640.6L371.9,648.4"/>
<ellipse class="bk" cx="372.7" cy="646.9" rx="0.8" ry="0.8"/>
<ellipse class="bk" cx="425" cy="663.8" rx="0.8" ry="0.8"/>
<ellipse class="bk" cx="432" cy="669.5" rx="0.8" ry="0.8"/>
<path class="ln" d="M376.6,657.8L381.2,654.7L385.2,660.9L381.2,664.1"/>
<path class="hv" d="M375,659.4L379.7,665.6L382.8,671.1"/>
<path class="bk" d="M378.9,653.1L385.9,660.2"/>
<path class="th" d="M353.1,642.2L353.1,669.5L374.2,684.4"/>
<path class="hv" d="M379.7,690.9C380.1,690.1 383.5,686.6 385.2,685.9C386.8,685.3 391.7,685.5 393.8,685.6C395.8,685.7 402.4,686 403.1,686.7C403.9,687.5 401.4,690.8 400.3,692.2C399.3,693.6 395.2,697 394.1,698.4C393,699.9 391.4,702.5 390.9,704.7C390.5,706.9 390.7,715.8 390,717.2C389.3,718.6 385.9,718.4 385.3,716.6C384.8,714.7 384.9,704.2 385.3,701.6C385.8,698.9 388.9,695.2 389.1,694.1C389.2,692.9 387.8,691.6 386.9,691.6C386,691.5 382.4,693.5 381.6,693.4C380.7,693.4 379.3,691.8 379.7,690.9Z"/>
<ellipse class="bk" cx="391.4" cy="692.2" rx="1.6" ry="2.2"/>
<ellipse class="ln" cx="400" cy="689.1" rx="0.8" ry="0.8"/>
<ellipse class="ln" cx="388.3" cy="700.8" rx="0.8" ry="0.8"/>
<ellipse class="bk" cx="383.6" cy="689.8" rx="0.9" ry="0.8"/>
<path class="ln" d="M396.1,686.7L395.6,696.1"/>
<path class="wf" d="M326.1,549.9C326.9,549.2 332.2,547.4 333.1,547.5C334,547.6 335.5,549.9 335.6,550.7C335.7,551.6 334.7,555.1 334.2,556.1C333.7,557.1 331.2,560.4 330.4,560.6C329.6,560.9 326.9,559.1 326.3,558.5C325.8,557.8 325.1,554.8 325,554C325,553.1 325.3,550.5 326.1,549.9Z" style="stroke-width:2"/>
<path class="ln" d="M335.6,551.8L355.1,568.1"/>
<path class="ln" d="M330.6,560.6L349.7,572.4"/>
<path class="ln" d="M355.1,568.1C355.5,568.5 357.1,569.4 357.3,570.1C357.4,570.7 357.4,571.6 356.2,572C354.9,572.4 350.8,572.4 349.7,572.4"/>
<path class="ln" d="M333.1,547.7C332.6,548.4 330.8,550.2 330.4,551.8C330.1,553.4 330.9,556.3 330.9,557.2"/>
<path class="hv" d="M344.4,543.2L348.7,546.7L347.8,559.3L344.6,560.4L342.2,552.9Z"/>
<path class="bk" d="M345.4,546.4L347.1,547.5L346.5,558.3L344.9,557.2Z"/>
<path class="ln" d="M335.6,550.7L342.2,552.9"/>
<ellipse class="bk" cx="341.2" cy="555" rx="1.3" ry="1.3"/>
<ellipse class="bk" cx="337.4" cy="558.3" rx="0.9" ry="0.9"/>
<path class="th" d="M342.2,541.6L344.9,543.8"/>
<path class="wf" d="M323.4,567.1L329.3,563.1L335.8,567.1L331.5,573.5L325,571.4Z"/>
<ellipse class="ln" cx="325.9" cy="568.5" rx="1" ry="1"/>
<path class="ln" d="M332.6,573.5L333.1,582.4L337.9,585.1L353,581L357.3,571.4"/>
<ellipse class="hv" cx="343.3" cy="576" rx="4.5" ry="2.4" transform="rotate(-8 343.3 576)"/>
<ellipse class="bk" cx="343.3" cy="576" rx="1.9" ry="0.9" transform="rotate(-8 343.3 576)"/>
<ellipse class="bk" cx="340.1" cy="580.3" rx="1.1" ry="0.8"/>
<ellipse class="bk" cx="338.1" cy="572" rx="0.9" ry="0.9"/>
<path class="ln" d="M357.3,571.2C359.5,570.3 399.9,554.3 402.4,553.4C404.9,552.6 406.8,554.3 407.2,554.5C407.6,554.7 409.8,557.7 409.9,558C410,558.4 409.4,561.3 409.4,561.5" style="stroke-width:1.8"/>
<path class="ln" d="M353,580.8L406.7,561.5"/>
<path class="th" d="M356.2,578.7L405.6,560.4"/>
<path class="ln" d="M360.5,583L408.8,566.3"/>
<path class="ln" d="M361.6,586.4L409.4,570.3"/>
<path class="bk" d="M361,584.3L404.5,569.2L405,571.4L361.6,586Z"/>
<path class="ln" d="M363.7,593.7L404.5,577.6"/>
<path class="ln" d="M362.6,590.5L406.7,574.4"/>
<path class="ln" d="M365.9,598L393.8,587.3"/>
<path class="ln" d="M409.4,561.5C409.6,562.2 410.6,564.3 410.5,565.8C410.5,567.2 408.8,568.7 408.8,570.3C408.8,571.9 410.5,573.7 410.5,575.4C410.5,577.2 409.6,579.7 408.8,580.8C408,581.9 406.3,581.9 405.8,582.1"/>
<ellipse class="bk" cx="403.5" cy="557.2" rx="2.4" ry="1.3" transform="rotate(-15 403.5 557.2)"/>
<ellipse class="bk" cx="405.8" cy="566" rx="1.9" ry="1.3"/>
<ellipse class="bk" cx="406.9" cy="577.8" rx="1.9" ry="2.1"/>
<ellipse class="bk" cx="405.1" cy="572.2" rx="1.1" ry="1.1"/>
<ellipse class="bk" cx="357.3" cy="588.3" rx="3.4" ry="3.9"/>
<ellipse class="gy" cx="357.8" cy="588.6" rx="1.1" ry="1.1" style="fill:#fcfcfc"/>
<ellipse class="bk" cx="361.6" cy="599.3" rx="2.8" ry="3.2"/>
<ellipse class="gy" cx="361.8" cy="599.3" rx="0.9" ry="0.9" style="fill:#fcfcfc"/>
<path class="ln" d="M354,581.9L354,590.5"/>
<path class="ln" d="M359.4,603.4L358.9,610.9"/>
<path class="ln" d="M364.2,603.4L363.7,609.8"/>
<path class="ln" d="M326.1,587.3L349.7,583L353,587.3L328.8,596.1Z"/>
<path class="ln" d="M326.1,587.3L325,593.7L328.8,596.1"/>
<ellipse class="bk" cx="330.4" cy="590.5" rx="1.3" ry="1.3"/>
<ellipse class="bk" cx="327.7" cy="587.3" rx="0.9" ry="0.9"/>
<path class="hv" d="M329.3,593.7L350.8,587.8"/>
<path class="ln" d="M321.8,598.5L357.3,590.5" style="stroke-width:1.8"/>
<path class="ln" d="M322.4,605.7L358.3,598" style="stroke-width:1.8"/>
<ellipse class="wf" cx="320.7" cy="602.3" rx="3.2" ry="3.9" transform="rotate(-10 320.7 602.3)" style="stroke-width:2.6"/>
<path class="ln" d="M334.7,604.5L340.1,600.2L355.1,602.3L357.3,608.8L350.8,610.9L336.9,609.8Z"/>
<path class="bk" d="M341.2,603.4C341.7,602.7 345.5,603.6 346.5,604.5C347.5,605.3 347.6,608 347.1,608.8C346.5,609.5 344.3,609.6 343.3,608.8C342.3,607.9 340.6,604.1 341.2,603.4Z"/>
<path class="ln" d="M345.4,600.2L347.6,604.5L353,606.6"/>
<ellipse class="bk" cx="344.4" cy="601.8" rx="1.1" ry="1.1"/>
<path class="hv" d="M320.7,614.1C321.3,613.6 322.5,611.7 324,611.1C325.4,610.6 328.1,610.2 329.3,610.9C330.6,611.6 331.6,613.4 331.5,615.2C331.3,617 329.3,619.5 328.5,621.9C327.6,624.2 327,627.2 326.3,629.2C325.7,631.1 324.8,632.7 324.5,633.5"/>
<path class="bk" d="M323.1,631.3L323.1,634.5L327.2,634.3L327.2,631.3Z"/>
<path class="ln" d="M331.5,613C333.3,612.8 338.3,611.4 342.2,611.4C346.2,611.4 353,612.8 355.1,613"/>
<ellipse class="bk" cx="334.2" cy="614.1" rx="0.6" ry="0.6"/>
<path class="hv" d="M338.1,614.3C339.4,614 348.4,613 349.7,613C351.1,613.1 351.2,614.7 351.2,615.2C351.3,615.6 351.5,617.1 350.3,617.6C349.1,618 340.5,619.6 339.2,619.5C337.9,619.4 337.5,617.3 337.4,616.8C337.3,616.3 336.9,614.7 338.1,614.3Z"/>
<path class="hv" d="M340.6,616.3L348.7,615.4"/>
<path class="hv" d="M360.5,617.6C362,616 376.7,604.7 378.8,603.6C380.8,602.5 384.7,603.6 385.2,604.5C385.7,605.3 385.2,611.2 384.3,613.3C383.5,615.3 375.8,627.7 374.7,629.4C373.5,631.1 371.1,633.5 370.4,633.7C369.7,633.9 366.9,632.5 366.1,631.5C365.3,630.5 361.2,623 360.7,621.9C360.2,620.7 359,619.1 360.5,617.6Z"/>
<path class="th" d="M362.6,618.4C364,617.1 377.1,607 378.8,606.1C380.4,605.1 382.5,606 382.8,606.6C383.1,607.2 383,611.3 382.2,613C381.4,614.8 374.6,626.4 373.6,627.9C372.6,629.4 370.9,630.9 370.4,631.1C369.9,631.2 368.1,630.4 367.5,629.7C366.8,629 363.3,623.1 362.9,622.2C362.4,621.2 361.3,619.8 362.6,618.4Z"/>
<path class="ln" d="M361.6,608.8L379.8,600.2L391.6,595.9"/>
<path class="hv" d="M406.7,582.1C405.6,583.7 402.9,588 400.4,591.8C398,595.5 394.4,599.7 391.9,604.7C389.3,609.7 387.2,616 385.4,621.9C383.6,627.7 381.8,637 381.1,640"/>
<path class="ln" d="M395.9,585.1C394.9,586.9 391.5,591.9 389.5,595.9C387.5,599.8 385.7,604.1 384.1,608.8C382.5,613.4 380.9,618.6 379.8,623.8C378.8,629 378,637.3 377.7,640"/>
<path class="hv" d="M389.7,596.1C389.9,594.9 394.9,589.4 395.9,588.3C397,587.2 399.8,585.2 400.4,585.1C401.1,585 402.7,586.6 402.6,587.5C402.5,588.3 400,592.4 399.2,593.7C398.3,595 394.9,599.9 394,600.2C393.1,600.4 389.5,597.3 389.7,596.1Z"/>
<path class="ln" d="M357.3,610.9C357.4,612.7 357.6,618.1 358.3,621.6C359.1,625.2 360.3,629.3 361.6,632.4C362.8,635.4 365.1,638.7 365.9,640"/>
<path class="hv" d="M391.6,620.8L398.3,615.2L408,622.9L401.5,629.4Z"/>
<ellipse class="bk" cx="395.9" cy="620.8" rx="0.6" ry="0.6"/>
<ellipse class="bk" cx="404" cy="623.3" rx="0.6" ry="0.6"/>
<path class="hv" d="M398.1,608.8C398.6,608.2 399.9,606 401.3,605.5C402.7,605 403.6,602.9 406.7,605.7C409.8,608.6 417.8,619.9 420,622.7"/>
<path class="ln" d="M395.9,614.1L399.2,609.8"/>
<path class="ln" d="M404.5,610.9C406,612.7 410.5,618.5 413.1,621.6C415.7,624.8 418.9,628.4 420,629.7"/>
<path class="ln" d="M404.5,590.5L408.8,591.6L409.9,604.5L413.1,608.8"/>
<path class="bk" d="M405.6,593.7L409.4,594.8L410.4,604.5L407.2,603.4Z"/>
<path class="hv" d="M402.4,600.2L405.6,604.5"/>
<path class="hv" d="M328.5,621.9C329.2,622.4 329.7,623.7 332.8,625C335.8,626.3 343.2,627.6 346.8,629.7C350.5,631.8 353.4,636.2 354.7,637.5"/>
<path class="ln" d="M333.1,620C334.6,620.5 339.3,621.6 342.2,622.7C345.2,623.9 348,625 350.8,627C353.6,629 357.8,633.5 359.2,634.7"/>
</g>
<!-- 64_hose.svgfrag -->
<g id="hose">
<path class="th" d="M163.4,555L163.4,544.8L253.8,603.4L270,598.8"/>
<path class="ln" d="M153,562.8L161.6,559.7L172.5,567.5L170.9,575.3L178.8,583.1L179.5,590.9L175.6,597.2L170.9,592.5L153.8,595.6L143.6,598L141.2,592.5L147.5,583.1L152.2,573.8Z"/>
<path class="ln" d="M153.8,565.2C153.9,566.6 155.3,570.6 154.5,573.8C153.8,576.9 150.9,580.9 149.1,583.9C147.2,586.9 144.5,590.4 143.6,591.7"/>
<path class="ln" d="M156.9,566.7L156.9,572.2L164.7,586.2L169.4,592.5"/>
<path class="hv" d="M161.6,570.9L168.6,585.5"/>
<path class="ln" d="M163.9,570.9L170.2,584.7"/>
<path class="ln" d="M142,592.5C145.8,591.8 158.6,589.6 164.7,588.1C170.8,586.7 176.4,584.6 178.8,583.9"/>
<path class="th" d="M145.9,593.3L147.5,590.2"/>
<ellipse class="ln" cx="154.5" cy="597.2" rx="1.2" ry="0.8"/>
<path class="bk" d="M162.3,592.5L172.5,592.2L174.1,604.7L163.4,607.3Z"/>
<path class="gy" d="M165.5,594.1L165.9,605" style="fill:none;stroke:#fcfcfc;stroke-width:1"/>
<path class="gy" d="M170.2,594.1L170.9,604.2" style="fill:none;stroke:#fcfcfc;stroke-width:1"/>
<path class="ln" d="M175.6,597.2C176.1,598.2 177.4,601.4 178.8,603.4C180.1,605.5 182.7,608.6 183.4,609.7"/>
<path class="th" d="M185.8,613.6L118.6,633.9L127.2,640.2"/>
<path class="th" d="M177.2,611.2L179.5,612.2"/>
<path class="bk" d="M130.3,642.8C130.9,641.8 137.6,640.6 138.9,640.9C140.2,641.2 143.2,644.7 143.1,645.9C143,647.2 138.8,653.3 137.8,653.8C136.8,654.2 134.2,651.7 133.4,650.6C132.7,649.5 129.8,643.8 130.3,642.8Z"/>
<ellipse class="wf" cx="144.1" cy="652.7" rx="5.9" ry="7.8" transform="rotate(25 144.1 652.7)"/>
<path class="ln" d="M173.3,603.4C174.5,604 177.3,605 180.3,606.9C183.3,608.8 187.9,611.3 191.2,614.7C194.6,618.1 197.5,622 200.6,627.2C203.8,632.4 206.9,639.9 210,645.9C213.1,651.9 216.2,658.2 219.4,663.1C222.5,668 226.6,672.4 228.8,675.3C230.9,678.2 230.3,679.4 232.5,680.6C234.7,681.8 236.1,682.2 241.9,682.5C247.6,682.8 260.1,683.1 266.9,682.5C273.6,681.9 278.1,680.3 282.5,679.1C286.9,677.8 290.6,675.8 293.4,675.2C296.3,674.5 297.9,674.2 299.7,675.2C301.5,676.1 303.3,677.9 304.4,680.6C305.4,683.4 305.9,687.4 305.9,691.6C305.9,695.7 305.5,701.2 304.4,705.6C303.2,710.1 301.5,714.6 298.9,718.1C296.3,721.6 292,724.2 288.8,726.7C285.5,729.2 282.2,730.8 279.4,733C276.5,735.2 273.5,737.3 271.6,740C269.6,742.7 268.5,745.7 267.7,749.4C266.8,753 266.7,757.7 266.6,761.9C266.4,766 266.6,772.3 266.6,774.4"/>
<path class="ln" d="M172.5,606.1C174.6,607.8 181.4,612.7 185,616.2C188.6,619.8 191.2,622.5 194.4,627.2C197.5,631.9 200.6,638.4 203.8,644.4C206.9,650.4 210,657.7 213.1,663.1C216.2,668.5 220.3,673.7 222.5,676.9C224.7,680.1 224.3,680.5 226.2,682.2C228.2,683.9 230.4,685.8 234.1,686.9C237.7,688 242.7,688.5 248.1,688.8C253.6,689 261.1,688.8 266.9,688.1C272.6,687.5 277.8,686.2 282.5,685C287.2,683.8 292.2,681 295,680.9C297.8,680.9 298.4,682.8 299.4,684.5C300.4,686.3 300.9,688.2 300.9,691.6C300.9,694.9 300.6,700.8 299.4,704.8C298.2,708.9 296.3,712.7 293.8,715.8C291.2,718.9 287.4,721.2 284.1,723.6C280.8,726 276.9,727.8 273.9,730.3C270.9,732.8 268,735.3 266.1,738.4C264.2,741.6 263.3,745.5 262.5,749.4C261.7,753.3 261.6,757.7 261.4,761.9C261.2,766 261.4,772.3 261.4,774.4"/>
<ellipse class="wf" cx="263.9" cy="776.7" rx="4.7" ry="1.9" style="stroke-width:2"/>
<path class="ln" d="M261.1,778.8L261.1,786.1L266.6,786.1L266.6,778.8"/>
<ellipse class="ln" cx="263.9" cy="786.2" rx="2.7" ry="0.9"/>
<path class="th" d="M261.1,781.4L266.6,781.4"/>
<path class="wf" d="M243.4,672L253.6,672.8L252.8,676.7L248.9,677.5L248.9,682.2L245,682.2Z"/>
<path class="ln" d="M245,673.6L248.9,677.5"/>
<ellipse class="hv" cx="244.2" cy="672.8" rx="1.2" ry="1.2"/>
<path class="wf" d="M272.3,669.7L284.1,668.9L284.8,672.8L280.2,673.6L280.9,679.1L276.2,679.1Z"/>
<path class="ln" d="M274.4,671.2L280.2,673.6"/>
<ellipse class="hv" cx="273.4" cy="670.5" rx="1.2" ry="1.2"/>
</g>
<!-- 70_bottom.svgfrag -->
<g id="bottom">
<ellipse class="wf" cx="454.7" cy="707.8" rx="5.3" ry="7.3" transform="rotate(-8 454.7 707.8)" style="stroke-width:2"/>
<path class="wf" d="M455.9,704.6C456.8,704.2 463.9,708.2 465,709C466,709.7 466.2,711.6 466.1,712.2C466.1,712.8 465.3,715.1 464.2,715.1C463.2,715.1 456.3,713.2 455.4,712.2C454.6,711.1 454.9,704.9 455.9,704.6Z"/>
<ellipse class="bk" cx="456.2" cy="708.5" rx="2.9" ry="3.5"/>
<path class="bk" d="M458.4,706.6L460.6,713.4"/>
<path class="bk" d="M459.4,707.1L461.4,713.7"/>
<ellipse class="ln" cx="464.7" cy="712.2" rx="1.6" ry="2.8" transform="rotate(-15 464.7 712.2)"/>
<ellipse class="wf" cx="404.9" cy="732.3" rx="5.3" ry="7.3" transform="rotate(-8 404.9 732.3)" style="stroke-width:2"/>
<path class="wf" d="M406.1,729C407,728.7 414.1,732.7 415.2,733.4C416.2,734.2 416.4,736 416.3,736.7C416.3,737.3 415.5,739.6 414.4,739.6C413.4,739.6 406.5,737.7 405.6,736.7C404.8,735.6 405.1,729.4 406.1,729Z"/>
<ellipse class="bk" cx="406.4" cy="733" rx="2.9" ry="3.5"/>
<path class="bk" d="M408.6,731.1L410.8,737.8"/>
<path class="bk" d="M409.6,731.5L411.6,738.1"/>
<ellipse class="ln" cx="414.9" cy="736.7" rx="1.6" ry="2.8" transform="rotate(-15 414.9 736.7)"/>
<path class="wf" d="M418.4,741L423.9,738.8L426.9,741.8L427.6,765.2L420.3,767.9L418.1,765.2Z" style="stroke-width:2"/>
<ellipse class="ln" cx="422.5" cy="743.5" rx="1.2" ry="2.6"/>
<ellipse class="ln" cx="422.9" cy="762.3" rx="1.2" ry="2.2"/>
<path class="ln" d="M423.2,728.9L434.2,724.2L447.4,731.5L456.2,728.6L456.9,743.2L448.8,745.4L438.6,753.8L428.3,758.2"/>
<path class="ln" d="M423.2,728.9L424.7,734.5L426.9,741.8"/>
<path class="hv" d="M424.7,727.1L423.9,734.5"/>
<path class="ln" d="M447.4,731.5L448.8,745.4"/>
<ellipse class="ln" cx="453.2" cy="734.7" rx="1" ry="2.2"/>
<ellipse class="ln" cx="430.5" cy="736.7" rx="2.1" ry="2.2"/>
<path class="ln" d="M431,738.8C431.6,739.9 432.7,744.3 434.5,745C436.2,745.7 440.5,744.5 441.5,743.2C442.5,742 440.5,738.6 440.4,737.7"/>
<path class="hv" d="M434.9,727.1L435.4,734.7"/>
<path class="bk" d="M428.3,749.1L435.7,747.3L436.4,755.7L429.1,757.9Z"/>
<ellipse class="gy" cx="431.6" cy="752" rx="1.5" ry="0.9" style="fill:#fcfcfc"/>
<path class="ln" d="M427.6,747.6L437.1,744.7"/>
<path class="th" d="M437.9,738.8L441.5,741.8"/>
<path class="hv" d="M469.4,692L473.8,688.3L485.5,686.4L486.6,693.4L482.5,696.7L475.2,698.1L470.1,702.5Z"/>
<path class="bk" d="M471.6,692L482.5,689L483.3,694.2L473.8,696.4Z"/>
<path class="hv" d="M469.4,702.5C469.7,703.9 470.8,708.3 471.6,711C472.3,713.7 473.4,714 473.8,718.6C474.1,723.3 473.3,735 473.8,738.8C474.2,742.7 473.5,743.7 476.7,741.8C479.9,739.9 489.4,731.3 492.8,727.4C496.2,723.6 496.2,721.1 497.2,718.6C498.2,716.1 498.9,714.1 498.7,712.5C498.4,710.9 497.7,711.6 495.7,709C493.8,706.3 488.4,698.7 486.9,696.7"/>
<path class="bk" d="M475.2,699.3L484.7,713.9L482.5,715.7L473.8,701.5Z"/>
<path class="ln" d="M482.5,697.1L492.8,712.5"/>
<path class="ln" d="M478.1,698.6L488.4,715.4"/>
<path class="ln" d="M479.6,720.1L491.3,715.7L489.1,727.4L479.6,734.7Z"/>
<path class="ln" d="M473.8,718.6L482.5,715.7L491.3,713.9"/>
<ellipse class="hv" cx="476.4" cy="722.1" rx="1.8" ry="1.9"/>
<ellipse class="hv" cx="495.7" cy="713.4" rx="1.8" ry="2.1"/>
<path class="ln" d="M476.7,738.8L479.6,734.5"/>
<path class="ln" d="M492.8,713.9L491.3,725.7"/>
</g>
<!-- 80_top.svgfrag -->
<g id="top">
<path class="hv" d="M543.7,271.2C544.6,271.8 547.8,272.9 548.8,274.8C549.8,276.6 550,279.8 549.8,282.1C549.6,284.4 548.8,286.9 547.8,288.5C546.8,290 544.4,291 543.7,291.5"/>
<path class="ln" d="M544.7,272.2L547.3,271.2L550.3,276.3"/>
<ellipse class="wf" cx="537.9" cy="282.4" rx="7.4" ry="14.2" transform="rotate(-8 537.9 282.4)"/>
<ellipse class="ln" cx="535.1" cy="282.9" rx="4.6" ry="9.4" transform="rotate(-8 535.1 282.9)"/>
<ellipse class="hv" cx="533.8" cy="283.9" rx="2" ry="5.1" transform="rotate(-8 533.8 283.9)"/>
<path class="th" d="M541.2,270.2C541.8,271.1 544,273.4 544.7,275.8C545.4,278.2 545.9,281.8 545.5,284.7C545.1,287.5 542.7,291.7 542.2,293"/>

<path class="bk" d="M640.7,239.2L632.3,241.2L636.6,247.3Z"/>
<path class="bk" d="M563.8,274.5C566.9,274.1 576.3,273.7 582.8,272C589.4,270.3 596.8,267.3 603.1,264.4C609.5,261.4 615.5,257.7 620.9,254.2C626.3,250.7 633.2,245.1 635.6,243.3 L636.1,244C633.6,246 626.4,251.9 620.9,255.7C615.4,259.5 609.5,263.6 603.1,266.9C596.8,270.2 589.4,273.5 582.8,275.8C576.3,278.1 566.9,280 563.8,280.9 Z"/>
<path class="hv" d="M436.2,250.6C437.3,251.6 440.1,253.9 442.5,256.2C444.9,258.6 447.7,262.2 450.6,265C453.5,267.8 457,270.4 460,273.1C463,275.8 466,279 468.8,281.2C471.5,283.5 475,285.9 476.2,286.9" style="stroke-width:2.8"/>
<path class="ln" d="M438.1,255C439.9,256.9 445.3,263.2 448.8,266.6C452.2,269.9 455.2,272.2 458.8,275.3C462.3,278.4 468.1,283.5 470,285.1"/>
<path class="ln" d="M457.5,248.4C458.4,249.1 460.4,250.5 463.1,252.5C465.8,254.5 470.3,258.2 473.8,260.6C477.2,263 481.9,265.3 483.8,266.9C485.6,268.4 485.1,268.4 485,270C484.9,271.6 484.1,274.2 483.1,276.2C482.2,278.3 480.4,280.8 479.4,282.5C478.3,284.2 477.3,285.6 476.9,286.2" style="stroke-width:1.8"/>
<path class="ln" d="M436.2,250.6L456.2,248.8" style="stroke-width:1.8"/>
<path class="ln" d="M442.5,254.4L455.6,250.6" style="stroke-width:1.7"/>
<path class="ln" d="M447.5,258.8L465,255.6" style="stroke-width:1.7"/>
<path class="ln" d="M450,260.9L467.5,258.8" style="stroke-width:1.7"/>
<path class="ln" d="M456.2,265L470.6,261.2" style="stroke-width:1.7"/>
<path class="ln" d="M459.4,267.8L477.5,265" style="stroke-width:1.7"/>
<path class="ln" d="M463.8,270.9L480,267.5" style="stroke-width:1.7"/>
<path class="ln" d="M470,275.3L478.8,272.5" style="stroke-width:1.7"/>
<path class="ln" d="M473.8,278.1L481.9,275" style="stroke-width:1.7"/>
<ellipse class="bk" cx="456.9" cy="250" rx="1.6" ry="1.4"/>
<ellipse class="bk" cx="473.1" cy="263.1" rx="1.4" ry="1.4"/>
<ellipse class="bk" cx="478.1" cy="274.4" rx="1.4" ry="1.4"/>
<path class="bk" d="M470,275L476.2,286.9L473.8,287.5L467.5,280Z"/>
<path class="ln" d="M479.4,277.5L476.2,283.8"/>
<ellipse class="wf" cx="441.9" cy="297.5" rx="3" ry="5.5" transform="rotate(-22 441.9 297.5)" style="stroke-width:2.4"/>
<ellipse class="ln" cx="441.6" cy="297.8" rx="1.1" ry="2.8" transform="rotate(-22 441.6 297.8)"/>
<path class="wf" d="M444.5,292L454.7,286.8L457,290.8L446.4,296.2Z" style="stroke-width:1.8"/>
<path class="ln" d="M450.6,289.4L452.5,293.1"/>
<path class="ln" d="M452.5,288.2L454.5,292.2"/>
<path class="ln" d="M454.1,287.5L456.1,291.4"/>
</g>
<!-- 90_labels.svgfrag -->
<g id="labels" transform="scale(0.95 1)" font-size="17.3">
<text x="703.2" y="191.0">10</text>
<text x="897.9" y="197.5">500</text>
<text x="429.6" y="274.5">550</text>
<text x="431.2" y="304.2">560</text>
<text x="525.3" y="289.7">330</text>
<text x="228.4" y="361.3">100</text>
<text x="94.5" y="393.8">25</text>
<text x="192.6" y="405.9">130</text>
<text x="248.8" y="394.7">22</text>
<text x="148.4" y="503.7">20</text>
<text x="233.3" y="496.0">40</text>
<text x="443.2" y="430.5">460</text>
<text x="567.4" y="426.0">400</text>
<text x="376.6" y="474.0">270</text>
<text x="463.5" y="467.7">260</text>
<text x="651.6" y="471.0">480</text>
<text x="456.8" y="574.5">240</text>
<text x="496.7" y="561.4">250</text>
<text x="256.8" y="570.7">30</text>
<text x="528.4" y="591.7">450</text>
<text x="597.9" y="592.7">420</text>
<text x="584.2" y="615.7">430</text>
<text x="571.8" y="652.8">410</text>
<text x="137.9" y="678.4">180</text>
<text x="372.6" y="718.8">150</text>
<text x="246.3" y="754.0">160</text>
<text x="466.3" y="695.0">60</text>
<text x="407.7" y="755.8">80</text>
<text x="461.7" y="778.1">70</text>
<text x="514.1" y="752.1">50</text>
<text x="852.6" y="408.0">290</text>
<text x="951.1" y="463.8">170</text>
<text x="884.2" y="493.2">200</text>
<text x="893.2" y="553.7">210</text>
</g>
</svg>
<div id="credit"><span>Diagrams provided by catalogs parts</span></div>
</body>
</html>
